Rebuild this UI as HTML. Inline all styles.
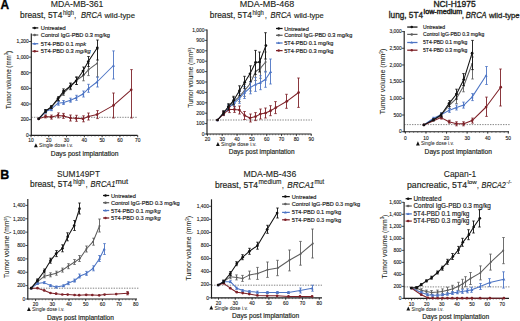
<!DOCTYPE html>
<html><head><meta charset="utf-8"><style>
html,body{margin:0;padding:0;background:#fff;}
body{width:520px;height:321px;overflow:hidden;}
svg{display:block;font-family:"Liberation Sans", sans-serif;}
</style></head><body>
<svg width="520" height="321" viewBox="0 0 520 321">
<rect width="520" height="321" fill="#fff"/>
<text x="0.40" y="9.35" font-size="13.5" text-anchor="start" fill="#000" font-weight="bold" font-style="normal" textLength="8.60" lengthAdjust="spacingAndGlyphs" stroke="#000" stroke-width="0.35">A</text>
<text x="0.30" y="179.30" font-size="13.6" text-anchor="start" fill="#000" font-weight="bold" font-style="normal" textLength="9.00" lengthAdjust="spacingAndGlyphs" stroke="#000" stroke-width="0.35">B</text>
<text x="50.80" y="7.30" font-size="9.0" fill="#231f20" stroke="#231f20" stroke-width="0.12" font-style="normal" font-weight="normal" textLength="52.60" lengthAdjust="spacingAndGlyphs">MDA-MB-361</text>
<text x="239.80" y="7.10" font-size="9.0" fill="#231f20" stroke="#231f20" stroke-width="0.12" font-style="normal" font-weight="normal" textLength="54.40" lengthAdjust="spacingAndGlyphs">MDA-MB-468</text>
<text x="433.40" y="7.00" font-size="9.0" fill="#231f20" stroke="#231f20" stroke-width="0.38" font-style="normal" font-weight="normal" textLength="42.30" lengthAdjust="spacingAndGlyphs">NCI-H1975</text>
<text x="57.00" y="177.20" font-size="9.2" fill="#231f20" stroke="#231f20" stroke-width="0.12" font-style="normal" font-weight="normal" textLength="43.00" lengthAdjust="spacingAndGlyphs">SUM149PT</text>
<text x="243.60" y="177.20" font-size="9.2" fill="#231f20" stroke="#231f20" stroke-width="0.12" font-style="normal" font-weight="normal" textLength="52.70" lengthAdjust="spacingAndGlyphs">MDA-MB-436</text>
<text x="443.80" y="177.20" font-size="9.2" fill="#231f20" stroke="#231f20" stroke-width="0.12" font-style="normal" font-weight="normal" textLength="32.40" lengthAdjust="spacingAndGlyphs">Capan-1</text>
<text x="20.00" y="18.00" font-size="8.8" fill="#231f20" stroke="#231f20" stroke-width="0.18" font-style="normal" font-weight="normal" textLength="42.30" lengthAdjust="spacingAndGlyphs">breast, 5T4</text>
<text x="63.10" y="14.60" font-size="6.6" fill="#231f20" stroke="#231f20" stroke-width="0.126" font-style="normal" font-weight="normal" textLength="10.90" lengthAdjust="spacingAndGlyphs">high</text>
<text x="74.20" y="18.00" font-size="8.8" fill="#231f20" stroke="#231f20" stroke-width="0.18" font-style="normal" font-weight="normal" textLength="1.80" lengthAdjust="spacingAndGlyphs">,</text>
<text x="81.00" y="18.00" font-size="9.240000000000002" fill="#231f20" stroke="#231f20" stroke-width="0.18" font-style="italic" font-weight="normal" textLength="20.90" lengthAdjust="spacingAndGlyphs">BRCA</text>
<text x="104.40" y="18.00" font-size="7.8" fill="#231f20" stroke="#231f20" stroke-width="0.144" font-style="normal" font-weight="normal" textLength="30.60" lengthAdjust="spacingAndGlyphs">wild-type</text>
<text x="209.75" y="17.90" font-size="8.8" fill="#231f20" stroke="#231f20" stroke-width="0.18" font-style="normal" font-weight="normal" textLength="42.15" lengthAdjust="spacingAndGlyphs">breast, 5T4</text>
<text x="252.50" y="14.50" font-size="6.6" fill="#231f20" stroke="#231f20" stroke-width="0.126" font-style="normal" font-weight="normal" textLength="11.25" lengthAdjust="spacingAndGlyphs">high</text>
<text x="265.10" y="17.90" font-size="8.8" fill="#231f20" stroke="#231f20" stroke-width="0.18" font-style="normal" font-weight="normal" textLength="1.80" lengthAdjust="spacingAndGlyphs">,</text>
<text x="270.60" y="17.90" font-size="9.240000000000002" fill="#231f20" stroke="#231f20" stroke-width="0.18" font-style="italic" font-weight="normal" textLength="20.65" lengthAdjust="spacingAndGlyphs">BRCA</text>
<text x="294.00" y="17.90" font-size="7.8" fill="#231f20" stroke="#231f20" stroke-width="0.144" font-style="normal" font-weight="normal" textLength="29.75" lengthAdjust="spacingAndGlyphs">wild-type</text>
<text x="388.80" y="18.10" font-size="8.8" fill="#231f20" stroke="#231f20" stroke-width="0.35" font-style="normal" font-weight="normal" textLength="34.20" lengthAdjust="spacingAndGlyphs">lung, 5T4</text>
<text x="423.60" y="14.30" font-size="6.6" fill="#231f20" stroke="#231f20" stroke-width="0.4" font-style="normal" font-weight="normal" textLength="38.70" lengthAdjust="spacingAndGlyphs">low-medium</text>
<text x="461.90" y="18.10" font-size="8.8" fill="#231f20" stroke="#231f20" stroke-width="0.35" font-style="normal" font-weight="normal" textLength="1.80" lengthAdjust="spacingAndGlyphs">,</text>
<text x="465.80" y="18.10" font-size="9.240000000000002" fill="#231f20" stroke="#231f20" stroke-width="0.35" font-style="italic" font-weight="normal" textLength="20.80" lengthAdjust="spacingAndGlyphs">BRCA</text>
<text x="489.00" y="18.10" font-size="7.8" fill="#231f20" stroke="#231f20" stroke-width="0.27999999999999997" font-style="normal" font-weight="normal" textLength="30.70" lengthAdjust="spacingAndGlyphs">wild-type</text>
<text x="30.00" y="187.40" font-size="9.1" fill="#231f20" stroke="#231f20" stroke-width="0.18" font-style="normal" font-weight="normal" textLength="42.25" lengthAdjust="spacingAndGlyphs">breast, 5T4</text>
<text x="73.15" y="184.00" font-size="6.6" fill="#231f20" stroke="#231f20" stroke-width="0.126" font-style="normal" font-weight="normal" textLength="11.60" lengthAdjust="spacingAndGlyphs">high</text>
<text x="85.70" y="187.40" font-size="9.1" fill="#231f20" stroke="#231f20" stroke-width="0.18" font-style="normal" font-weight="normal" textLength="1.80" lengthAdjust="spacingAndGlyphs">,</text>
<text x="90.60" y="187.40" font-size="9.555" fill="#231f20" stroke="#231f20" stroke-width="0.18" font-style="italic" font-weight="normal" textLength="24.80" lengthAdjust="spacingAndGlyphs">BRCA1</text>
<text x="115.40" y="184.00" font-size="6.6" fill="#231f20" stroke="#231f20" stroke-width="0.126" font-style="normal" font-weight="normal" textLength="12.70" lengthAdjust="spacingAndGlyphs">mut</text>
<text x="215.00" y="187.50" font-size="9.1" fill="#231f20" stroke="#231f20" stroke-width="0.18" font-style="normal" font-weight="normal" textLength="43.10" lengthAdjust="spacingAndGlyphs">breast, 5T4</text>
<text x="258.40" y="184.10" font-size="6.6" fill="#231f20" stroke="#231f20" stroke-width="0.126" font-style="normal" font-weight="normal" textLength="23.10" lengthAdjust="spacingAndGlyphs">medium</text>
<text x="282.10" y="187.50" font-size="9.1" fill="#231f20" stroke="#231f20" stroke-width="0.18" font-style="normal" font-weight="normal" textLength="1.80" lengthAdjust="spacingAndGlyphs">,</text>
<text x="287.30" y="187.50" font-size="9.555" fill="#231f20" stroke="#231f20" stroke-width="0.18" font-style="italic" font-weight="normal" textLength="27.10" lengthAdjust="spacingAndGlyphs">BRCA1</text>
<text x="314.40" y="184.10" font-size="6.6" fill="#231f20" stroke="#231f20" stroke-width="0.126" font-style="normal" font-weight="normal" textLength="9.80" lengthAdjust="spacingAndGlyphs">mut</text>
<text x="407.00" y="187.50" font-size="9.2" fill="#231f20" stroke="#231f20" stroke-width="0.18" font-style="normal" font-weight="normal" textLength="60.10" lengthAdjust="spacingAndGlyphs">pancreatic, 5T4</text>
<text x="467.40" y="183.60" font-size="5.609999999999999" fill="#231f20" stroke="#231f20" stroke-width="0.126" font-style="normal" font-weight="normal" textLength="9.30" lengthAdjust="spacingAndGlyphs">low</text>
<text x="476.90" y="187.50" font-size="9.2" fill="#231f20" stroke="#231f20" stroke-width="0.18" font-style="normal" font-weight="normal" textLength="1.80" lengthAdjust="spacingAndGlyphs">,</text>
<text x="481.60" y="187.50" font-size="9.66" fill="#231f20" stroke="#231f20" stroke-width="0.18" font-style="italic" font-weight="normal" textLength="24.30" lengthAdjust="spacingAndGlyphs">BRCA2</text>
<text x="506.20" y="183.60" font-size="5.609999999999999" fill="#231f20" stroke="#231f20" stroke-width="0.126" font-style="normal" font-weight="normal" textLength="5.60" lengthAdjust="spacingAndGlyphs">-/-</text>
<line x1="31.30" y1="33.50" x2="31.30" y2="135.80" stroke="#1e1e1e" stroke-width="1.15"/>
<line x1="28.90" y1="135.30" x2="31.30" y2="135.30" stroke="#222" stroke-width="0.8"/>
<text x="28.80" y="137.05" font-size="4.9" text-anchor="end" fill="#1a1a1a" font-weight="normal" font-style="normal" stroke="#1a1a1a" stroke-width="0.12">0</text>
<line x1="28.90" y1="119.67" x2="31.30" y2="119.67" stroke="#222" stroke-width="0.8"/>
<text x="28.80" y="121.42" font-size="4.9" text-anchor="end" fill="#1a1a1a" font-weight="normal" font-style="normal" stroke="#1a1a1a" stroke-width="0.12">200</text>
<line x1="28.90" y1="104.03" x2="31.30" y2="104.03" stroke="#222" stroke-width="0.8"/>
<text x="28.80" y="105.78" font-size="4.9" text-anchor="end" fill="#1a1a1a" font-weight="normal" font-style="normal" stroke="#1a1a1a" stroke-width="0.12">400</text>
<line x1="28.90" y1="88.40" x2="31.30" y2="88.40" stroke="#222" stroke-width="0.8"/>
<text x="28.80" y="90.15" font-size="4.9" text-anchor="end" fill="#1a1a1a" font-weight="normal" font-style="normal" stroke="#1a1a1a" stroke-width="0.12">600</text>
<line x1="28.90" y1="72.77" x2="31.30" y2="72.77" stroke="#222" stroke-width="0.8"/>
<text x="28.80" y="74.52" font-size="4.9" text-anchor="end" fill="#1a1a1a" font-weight="normal" font-style="normal" stroke="#1a1a1a" stroke-width="0.12">800</text>
<line x1="28.90" y1="57.13" x2="31.30" y2="57.13" stroke="#222" stroke-width="0.8"/>
<text x="28.80" y="58.88" font-size="4.9" text-anchor="end" fill="#1a1a1a" font-weight="normal" font-style="normal" stroke="#1a1a1a" stroke-width="0.12">1,000</text>
<line x1="28.90" y1="41.50" x2="31.30" y2="41.50" stroke="#222" stroke-width="0.8"/>
<text x="28.80" y="43.25" font-size="4.9" text-anchor="end" fill="#1a1a1a" font-weight="normal" font-style="normal" stroke="#1a1a1a" stroke-width="0.12">1,200</text>
<line x1="30.80" y1="135.30" x2="137.50" y2="135.30" stroke="#1e1e1e" stroke-width="1.15"/>
<line x1="31.00" y1="135.30" x2="31.00" y2="136.60" stroke="#333" stroke-width="0.5"/>
<line x1="34.56" y1="135.30" x2="34.56" y2="136.60" stroke="#333" stroke-width="0.5"/>
<line x1="38.11" y1="135.30" x2="38.11" y2="136.60" stroke="#333" stroke-width="0.5"/>
<line x1="41.67" y1="135.30" x2="41.67" y2="136.60" stroke="#333" stroke-width="0.5"/>
<line x1="45.22" y1="135.30" x2="45.22" y2="136.60" stroke="#333" stroke-width="0.5"/>
<line x1="48.78" y1="135.30" x2="48.78" y2="136.60" stroke="#333" stroke-width="0.5"/>
<line x1="52.34" y1="135.30" x2="52.34" y2="136.60" stroke="#333" stroke-width="0.5"/>
<line x1="55.89" y1="135.30" x2="55.89" y2="136.60" stroke="#333" stroke-width="0.5"/>
<line x1="59.45" y1="135.30" x2="59.45" y2="136.60" stroke="#333" stroke-width="0.5"/>
<line x1="63.00" y1="135.30" x2="63.00" y2="136.60" stroke="#333" stroke-width="0.5"/>
<line x1="66.56" y1="135.30" x2="66.56" y2="136.60" stroke="#333" stroke-width="0.5"/>
<line x1="70.12" y1="135.30" x2="70.12" y2="136.60" stroke="#333" stroke-width="0.5"/>
<line x1="73.67" y1="135.30" x2="73.67" y2="136.60" stroke="#333" stroke-width="0.5"/>
<line x1="77.23" y1="135.30" x2="77.23" y2="136.60" stroke="#333" stroke-width="0.5"/>
<line x1="80.78" y1="135.30" x2="80.78" y2="136.60" stroke="#333" stroke-width="0.5"/>
<line x1="84.34" y1="135.30" x2="84.34" y2="136.60" stroke="#333" stroke-width="0.5"/>
<line x1="87.90" y1="135.30" x2="87.90" y2="136.60" stroke="#333" stroke-width="0.5"/>
<line x1="91.45" y1="135.30" x2="91.45" y2="136.60" stroke="#333" stroke-width="0.5"/>
<line x1="95.01" y1="135.30" x2="95.01" y2="136.60" stroke="#333" stroke-width="0.5"/>
<line x1="98.56" y1="135.30" x2="98.56" y2="136.60" stroke="#333" stroke-width="0.5"/>
<line x1="102.12" y1="135.30" x2="102.12" y2="136.60" stroke="#333" stroke-width="0.5"/>
<line x1="105.68" y1="135.30" x2="105.68" y2="136.60" stroke="#333" stroke-width="0.5"/>
<line x1="109.23" y1="135.30" x2="109.23" y2="136.60" stroke="#333" stroke-width="0.5"/>
<line x1="112.79" y1="135.30" x2="112.79" y2="136.60" stroke="#333" stroke-width="0.5"/>
<line x1="116.34" y1="135.30" x2="116.34" y2="136.60" stroke="#333" stroke-width="0.5"/>
<line x1="119.90" y1="135.30" x2="119.90" y2="136.60" stroke="#333" stroke-width="0.5"/>
<line x1="123.46" y1="135.30" x2="123.46" y2="136.60" stroke="#333" stroke-width="0.5"/>
<line x1="127.01" y1="135.30" x2="127.01" y2="136.60" stroke="#333" stroke-width="0.5"/>
<line x1="130.57" y1="135.30" x2="130.57" y2="136.60" stroke="#333" stroke-width="0.5"/>
<line x1="134.12" y1="135.30" x2="134.12" y2="136.60" stroke="#333" stroke-width="0.5"/>
<line x1="137.68" y1="135.30" x2="137.68" y2="136.60" stroke="#333" stroke-width="0.5"/>
<line x1="31.00" y1="135.30" x2="31.00" y2="137.30" stroke="#222" stroke-width="0.8"/>
<text x="31.00" y="142.40" font-size="4.9" text-anchor="middle" fill="#1a1a1a" font-weight="normal" font-style="normal" stroke="#1a1a1a" stroke-width="0.12">10</text>
<line x1="48.78" y1="135.30" x2="48.78" y2="137.30" stroke="#222" stroke-width="0.8"/>
<text x="48.78" y="142.40" font-size="4.9" text-anchor="middle" fill="#1a1a1a" font-weight="normal" font-style="normal" stroke="#1a1a1a" stroke-width="0.12">20</text>
<line x1="66.56" y1="135.30" x2="66.56" y2="137.30" stroke="#222" stroke-width="0.8"/>
<text x="66.56" y="142.40" font-size="4.9" text-anchor="middle" fill="#1a1a1a" font-weight="normal" font-style="normal" stroke="#1a1a1a" stroke-width="0.12">30</text>
<line x1="84.34" y1="135.30" x2="84.34" y2="137.30" stroke="#222" stroke-width="0.8"/>
<text x="84.34" y="142.40" font-size="4.9" text-anchor="middle" fill="#1a1a1a" font-weight="normal" font-style="normal" stroke="#1a1a1a" stroke-width="0.12">40</text>
<line x1="102.12" y1="135.30" x2="102.12" y2="137.30" stroke="#222" stroke-width="0.8"/>
<text x="102.12" y="142.40" font-size="4.9" text-anchor="middle" fill="#1a1a1a" font-weight="normal" font-style="normal" stroke="#1a1a1a" stroke-width="0.12">50</text>
<line x1="119.90" y1="135.30" x2="119.90" y2="137.30" stroke="#222" stroke-width="0.8"/>
<text x="119.90" y="142.40" font-size="4.9" text-anchor="middle" fill="#1a1a1a" font-weight="normal" font-style="normal" stroke="#1a1a1a" stroke-width="0.12">60</text>
<line x1="137.68" y1="135.30" x2="137.68" y2="137.30" stroke="#222" stroke-width="0.8"/>
<text x="137.68" y="142.40" font-size="4.9" text-anchor="middle" fill="#1a1a1a" font-weight="normal" font-style="normal" stroke="#1a1a1a" stroke-width="0.12">70</text>
<line x1="31.30" y1="117.30" x2="137.00" y2="117.30" stroke="#333" stroke-width="0.6" stroke-dasharray="1.4,1.2"/>
<text transform="translate(8.40,79.90) rotate(-90)" x="0" y="2.45" font-size="7.0" text-anchor="middle" fill="#231f20" stroke="#231f20" stroke-width="0.08" textLength="58.00" lengthAdjust="spacingAndGlyphs">Tumor volume (mm<tspan font-size="4.55" dy="-2.45">3</tspan><tspan dy="2.45">)</tspan></text>
<polygon points="35.90,143.20 34.00,147.30 37.80,147.30" fill="#111"/>
<text x="39.00" y="147.30" font-size="5.2" text-anchor="start" fill="#2a2a2a" font-weight="normal" font-style="normal" textLength="34.00" lengthAdjust="spacingAndGlyphs" stroke="#2a2a2a" stroke-width="0.05">Single dose i.v.</text>
<text x="50.80" y="156.00" font-size="7" text-anchor="start" fill="#231f20" font-weight="normal" font-style="normal" textLength="67.70" lengthAdjust="spacingAndGlyphs" stroke="#231f20" stroke-width="0.18">Days post implantation</text>
<path d="M38.70,118.80 L45.60,111.50 L51.20,107.50 L58.00,99.50 L63.60,93.00 L70.50,86.70 L76.10,80.50 L83.00,75.80 L88.60,69.60 L97.00,63.40" fill="none" stroke="#5e5e5e" stroke-width="1.05" stroke-linejoin="round"/>
<line x1="45.50" y1="110.00" x2="45.50" y2="113.00" stroke="#5e5e5e" stroke-width="0.9"/>
<line x1="44.20" y1="110.00" x2="46.80" y2="110.00" stroke="#5e5e5e" stroke-width="0.8"/>
<line x1="44.20" y1="113.00" x2="46.80" y2="113.00" stroke="#5e5e5e" stroke-width="0.8"/>
<line x1="51.50" y1="106.00" x2="51.50" y2="109.00" stroke="#5e5e5e" stroke-width="0.9"/>
<line x1="50.20" y1="106.00" x2="52.80" y2="106.00" stroke="#5e5e5e" stroke-width="0.8"/>
<line x1="50.20" y1="109.00" x2="52.80" y2="109.00" stroke="#5e5e5e" stroke-width="0.8"/>
<line x1="58.50" y1="97.50" x2="58.50" y2="101.50" stroke="#5e5e5e" stroke-width="0.9"/>
<line x1="57.20" y1="97.50" x2="59.80" y2="97.50" stroke="#5e5e5e" stroke-width="0.8"/>
<line x1="57.20" y1="101.50" x2="59.80" y2="101.50" stroke="#5e5e5e" stroke-width="0.8"/>
<line x1="63.50" y1="90.50" x2="63.50" y2="95.50" stroke="#5e5e5e" stroke-width="0.9"/>
<line x1="62.20" y1="90.50" x2="64.80" y2="90.50" stroke="#5e5e5e" stroke-width="0.8"/>
<line x1="62.20" y1="95.50" x2="64.80" y2="95.50" stroke="#5e5e5e" stroke-width="0.8"/>
<line x1="70.50" y1="83.70" x2="70.50" y2="89.70" stroke="#5e5e5e" stroke-width="0.9"/>
<line x1="69.20" y1="83.70" x2="71.80" y2="83.70" stroke="#5e5e5e" stroke-width="0.8"/>
<line x1="69.20" y1="89.70" x2="71.80" y2="89.70" stroke="#5e5e5e" stroke-width="0.8"/>
<line x1="76.50" y1="76.50" x2="76.50" y2="84.50" stroke="#5e5e5e" stroke-width="0.9"/>
<line x1="75.20" y1="76.50" x2="77.80" y2="76.50" stroke="#5e5e5e" stroke-width="0.8"/>
<line x1="75.20" y1="84.50" x2="77.80" y2="84.50" stroke="#5e5e5e" stroke-width="0.8"/>
<line x1="83.50" y1="70.80" x2="83.50" y2="80.80" stroke="#5e5e5e" stroke-width="0.9"/>
<line x1="82.20" y1="70.80" x2="84.80" y2="70.80" stroke="#5e5e5e" stroke-width="0.8"/>
<line x1="82.20" y1="80.80" x2="84.80" y2="80.80" stroke="#5e5e5e" stroke-width="0.8"/>
<line x1="88.50" y1="63.60" x2="88.50" y2="75.60" stroke="#5e5e5e" stroke-width="0.9"/>
<line x1="87.20" y1="63.60" x2="89.80" y2="63.60" stroke="#5e5e5e" stroke-width="0.8"/>
<line x1="87.20" y1="75.60" x2="89.80" y2="75.60" stroke="#5e5e5e" stroke-width="0.8"/>
<line x1="97.50" y1="49.00" x2="97.50" y2="77.00" stroke="#5e5e5e" stroke-width="0.9"/>
<line x1="96.20" y1="49.00" x2="98.80" y2="49.00" stroke="#5e5e5e" stroke-width="0.8"/>
<line x1="96.20" y1="77.00" x2="98.80" y2="77.00" stroke="#5e5e5e" stroke-width="0.8"/>
<circle cx="38.70" cy="118.80" r="1.00" fill="#5e5e5e"/>
<circle cx="45.60" cy="111.50" r="1.00" fill="#5e5e5e"/>
<circle cx="51.20" cy="107.50" r="1.00" fill="#5e5e5e"/>
<circle cx="58.00" cy="99.50" r="1.00" fill="#5e5e5e"/>
<circle cx="63.60" cy="93.00" r="1.00" fill="#5e5e5e"/>
<circle cx="70.50" cy="86.70" r="1.00" fill="#5e5e5e"/>
<circle cx="76.10" cy="80.50" r="1.00" fill="#5e5e5e"/>
<circle cx="83.00" cy="75.80" r="1.00" fill="#5e5e5e"/>
<circle cx="88.60" cy="69.60" r="1.00" fill="#5e5e5e"/>
<circle cx="97.00" cy="63.40" r="1.00" fill="#5e5e5e"/>
<path d="M38.70,118.80 L45.60,111.60 L51.20,109.20 L58.00,103.20 L63.60,102.50 L70.50,100.20 L76.10,97.80 L83.00,94.00 L88.60,88.30 L97.00,82.00 L113.50,65.50" fill="none" stroke="#4c74c4" stroke-width="1.05" stroke-linejoin="round"/>
<line x1="45.50" y1="110.10" x2="45.50" y2="113.10" stroke="#4c74c4" stroke-width="0.9"/>
<line x1="44.20" y1="110.10" x2="46.80" y2="110.10" stroke="#4c74c4" stroke-width="0.8"/>
<line x1="44.20" y1="113.10" x2="46.80" y2="113.10" stroke="#4c74c4" stroke-width="0.8"/>
<line x1="51.50" y1="107.70" x2="51.50" y2="110.70" stroke="#4c74c4" stroke-width="0.9"/>
<line x1="50.20" y1="107.70" x2="52.80" y2="107.70" stroke="#4c74c4" stroke-width="0.8"/>
<line x1="50.20" y1="110.70" x2="52.80" y2="110.70" stroke="#4c74c4" stroke-width="0.8"/>
<line x1="58.50" y1="101.20" x2="58.50" y2="105.20" stroke="#4c74c4" stroke-width="0.9"/>
<line x1="57.20" y1="101.20" x2="59.80" y2="101.20" stroke="#4c74c4" stroke-width="0.8"/>
<line x1="57.20" y1="105.20" x2="59.80" y2="105.20" stroke="#4c74c4" stroke-width="0.8"/>
<line x1="63.50" y1="100.50" x2="63.50" y2="104.50" stroke="#4c74c4" stroke-width="0.9"/>
<line x1="62.20" y1="100.50" x2="64.80" y2="100.50" stroke="#4c74c4" stroke-width="0.8"/>
<line x1="62.20" y1="104.50" x2="64.80" y2="104.50" stroke="#4c74c4" stroke-width="0.8"/>
<line x1="70.50" y1="98.20" x2="70.50" y2="102.20" stroke="#4c74c4" stroke-width="0.9"/>
<line x1="69.20" y1="98.20" x2="71.80" y2="98.20" stroke="#4c74c4" stroke-width="0.8"/>
<line x1="69.20" y1="102.20" x2="71.80" y2="102.20" stroke="#4c74c4" stroke-width="0.8"/>
<line x1="76.50" y1="95.30" x2="76.50" y2="100.30" stroke="#4c74c4" stroke-width="0.9"/>
<line x1="75.20" y1="95.30" x2="77.80" y2="95.30" stroke="#4c74c4" stroke-width="0.8"/>
<line x1="75.20" y1="100.30" x2="77.80" y2="100.30" stroke="#4c74c4" stroke-width="0.8"/>
<line x1="83.50" y1="91.00" x2="83.50" y2="97.00" stroke="#4c74c4" stroke-width="0.9"/>
<line x1="82.20" y1="91.00" x2="84.80" y2="91.00" stroke="#4c74c4" stroke-width="0.8"/>
<line x1="82.20" y1="97.00" x2="84.80" y2="97.00" stroke="#4c74c4" stroke-width="0.8"/>
<line x1="88.50" y1="84.30" x2="88.50" y2="92.30" stroke="#4c74c4" stroke-width="0.9"/>
<line x1="87.20" y1="84.30" x2="89.80" y2="84.30" stroke="#4c74c4" stroke-width="0.8"/>
<line x1="87.20" y1="92.30" x2="89.80" y2="92.30" stroke="#4c74c4" stroke-width="0.8"/>
<line x1="97.50" y1="77.00" x2="97.50" y2="87.00" stroke="#4c74c4" stroke-width="0.9"/>
<line x1="96.20" y1="77.00" x2="98.80" y2="77.00" stroke="#4c74c4" stroke-width="0.8"/>
<line x1="96.20" y1="87.00" x2="98.80" y2="87.00" stroke="#4c74c4" stroke-width="0.8"/>
<line x1="113.50" y1="50.90" x2="113.50" y2="79.00" stroke="#4c74c4" stroke-width="0.9"/>
<line x1="112.20" y1="50.90" x2="114.80" y2="50.90" stroke="#4c74c4" stroke-width="0.8"/>
<line x1="112.20" y1="79.00" x2="114.80" y2="79.00" stroke="#4c74c4" stroke-width="0.8"/>
<polygon points="38.70,117.31 37.22,119.99 40.19,119.99" fill="#4c74c4"/>
<polygon points="45.60,110.11 44.12,112.79 47.09,112.79" fill="#4c74c4"/>
<polygon points="51.20,107.72 49.72,110.39 52.69,110.39" fill="#4c74c4"/>
<polygon points="58.00,101.72 56.52,104.39 59.48,104.39" fill="#4c74c4"/>
<polygon points="63.60,101.02 62.12,103.69 65.09,103.69" fill="#4c74c4"/>
<polygon points="70.50,98.72 69.02,101.39 71.98,101.39" fill="#4c74c4"/>
<polygon points="76.10,96.31 74.61,98.99 77.58,98.99" fill="#4c74c4"/>
<polygon points="83.00,92.52 81.52,95.19 84.48,95.19" fill="#4c74c4"/>
<polygon points="88.60,86.81 87.11,89.49 90.08,89.49" fill="#4c74c4"/>
<polygon points="97.00,80.52 95.52,83.19 98.48,83.19" fill="#4c74c4"/>
<polygon points="113.50,64.02 112.02,66.69 114.98,66.69" fill="#4c74c4"/>
<path d="M38.70,118.80 L45.60,116.40 L51.20,117.10 L58.00,115.40 L63.60,115.90 L70.50,118.00 L76.10,118.30 L83.00,118.80 L88.60,116.50 L97.00,114.60 L113.50,105.40 L131.20,89.80" fill="none" stroke="#7e2128" stroke-width="1.05" stroke-linejoin="round"/>
<line x1="45.50" y1="114.90" x2="45.50" y2="117.90" stroke="#7e2128" stroke-width="0.9"/>
<line x1="44.20" y1="114.90" x2="46.80" y2="114.90" stroke="#7e2128" stroke-width="0.8"/>
<line x1="44.20" y1="117.90" x2="46.80" y2="117.90" stroke="#7e2128" stroke-width="0.8"/>
<line x1="51.50" y1="115.10" x2="51.50" y2="119.10" stroke="#7e2128" stroke-width="0.9"/>
<line x1="50.20" y1="115.10" x2="52.80" y2="115.10" stroke="#7e2128" stroke-width="0.8"/>
<line x1="50.20" y1="119.10" x2="52.80" y2="119.10" stroke="#7e2128" stroke-width="0.8"/>
<line x1="58.50" y1="112.90" x2="58.50" y2="117.90" stroke="#7e2128" stroke-width="0.9"/>
<line x1="57.20" y1="112.90" x2="59.80" y2="112.90" stroke="#7e2128" stroke-width="0.8"/>
<line x1="57.20" y1="117.90" x2="59.80" y2="117.90" stroke="#7e2128" stroke-width="0.8"/>
<line x1="63.50" y1="113.40" x2="63.50" y2="118.40" stroke="#7e2128" stroke-width="0.9"/>
<line x1="62.20" y1="113.40" x2="64.80" y2="113.40" stroke="#7e2128" stroke-width="0.8"/>
<line x1="62.20" y1="118.40" x2="64.80" y2="118.40" stroke="#7e2128" stroke-width="0.8"/>
<line x1="70.50" y1="115.00" x2="70.50" y2="121.00" stroke="#7e2128" stroke-width="0.9"/>
<line x1="69.20" y1="115.00" x2="71.80" y2="115.00" stroke="#7e2128" stroke-width="0.8"/>
<line x1="69.20" y1="121.00" x2="71.80" y2="121.00" stroke="#7e2128" stroke-width="0.8"/>
<line x1="76.50" y1="115.30" x2="76.50" y2="121.30" stroke="#7e2128" stroke-width="0.9"/>
<line x1="75.20" y1="115.30" x2="77.80" y2="115.30" stroke="#7e2128" stroke-width="0.8"/>
<line x1="75.20" y1="121.30" x2="77.80" y2="121.30" stroke="#7e2128" stroke-width="0.8"/>
<line x1="83.50" y1="115.80" x2="83.50" y2="121.80" stroke="#7e2128" stroke-width="0.9"/>
<line x1="82.20" y1="115.80" x2="84.80" y2="115.80" stroke="#7e2128" stroke-width="0.8"/>
<line x1="82.20" y1="121.80" x2="84.80" y2="121.80" stroke="#7e2128" stroke-width="0.8"/>
<line x1="88.50" y1="113.00" x2="88.50" y2="120.00" stroke="#7e2128" stroke-width="0.9"/>
<line x1="87.20" y1="113.00" x2="89.80" y2="113.00" stroke="#7e2128" stroke-width="0.8"/>
<line x1="87.20" y1="120.00" x2="89.80" y2="120.00" stroke="#7e2128" stroke-width="0.8"/>
<line x1="97.50" y1="110.60" x2="97.50" y2="118.60" stroke="#7e2128" stroke-width="0.9"/>
<line x1="96.20" y1="110.60" x2="98.80" y2="110.60" stroke="#7e2128" stroke-width="0.8"/>
<line x1="96.20" y1="118.60" x2="98.80" y2="118.60" stroke="#7e2128" stroke-width="0.8"/>
<line x1="113.50" y1="93.00" x2="113.50" y2="118.00" stroke="#7e2128" stroke-width="0.9"/>
<line x1="112.20" y1="93.00" x2="114.80" y2="93.00" stroke="#7e2128" stroke-width="0.8"/>
<line x1="112.20" y1="118.00" x2="114.80" y2="118.00" stroke="#7e2128" stroke-width="0.8"/>
<line x1="131.50" y1="69.60" x2="131.50" y2="118.00" stroke="#7e2128" stroke-width="0.9"/>
<line x1="130.20" y1="69.60" x2="132.80" y2="69.60" stroke="#7e2128" stroke-width="0.8"/>
<line x1="130.20" y1="118.00" x2="132.80" y2="118.00" stroke="#7e2128" stroke-width="0.8"/>
<circle cx="38.70" cy="118.80" r="1.35" fill="#7e2128"/>
<circle cx="45.60" cy="116.40" r="1.35" fill="#7e2128"/>
<circle cx="51.20" cy="117.10" r="1.35" fill="#7e2128"/>
<circle cx="58.00" cy="115.40" r="1.35" fill="#7e2128"/>
<circle cx="63.60" cy="115.90" r="1.35" fill="#7e2128"/>
<circle cx="70.50" cy="118.00" r="1.35" fill="#7e2128"/>
<circle cx="76.10" cy="118.30" r="1.35" fill="#7e2128"/>
<circle cx="83.00" cy="118.80" r="1.35" fill="#7e2128"/>
<circle cx="88.60" cy="116.50" r="1.35" fill="#7e2128"/>
<circle cx="97.00" cy="114.60" r="1.35" fill="#7e2128"/>
<circle cx="113.50" cy="105.40" r="1.35" fill="#7e2128"/>
<circle cx="131.20" cy="89.80" r="1.35" fill="#7e2128"/>
<path d="M38.70,118.80 L45.60,111.00 L51.20,107.00 L58.00,98.60 L63.60,91.40 L70.50,86.00 L76.10,81.00 L83.00,71.00 L88.30,61.50 L97.30,47.80" fill="none" stroke="#111" stroke-width="1.05" stroke-linejoin="round"/>
<line x1="45.50" y1="109.50" x2="45.50" y2="112.50" stroke="#111" stroke-width="0.9"/>
<line x1="44.20" y1="109.50" x2="46.80" y2="109.50" stroke="#111" stroke-width="0.8"/>
<line x1="44.20" y1="112.50" x2="46.80" y2="112.50" stroke="#111" stroke-width="0.8"/>
<line x1="51.50" y1="105.50" x2="51.50" y2="108.50" stroke="#111" stroke-width="0.9"/>
<line x1="50.20" y1="105.50" x2="52.80" y2="105.50" stroke="#111" stroke-width="0.8"/>
<line x1="50.20" y1="108.50" x2="52.80" y2="108.50" stroke="#111" stroke-width="0.8"/>
<line x1="58.50" y1="96.60" x2="58.50" y2="100.60" stroke="#111" stroke-width="0.9"/>
<line x1="57.20" y1="96.60" x2="59.80" y2="96.60" stroke="#111" stroke-width="0.8"/>
<line x1="57.20" y1="100.60" x2="59.80" y2="100.60" stroke="#111" stroke-width="0.8"/>
<line x1="63.50" y1="88.90" x2="63.50" y2="93.90" stroke="#111" stroke-width="0.9"/>
<line x1="62.20" y1="88.90" x2="64.80" y2="88.90" stroke="#111" stroke-width="0.8"/>
<line x1="62.20" y1="93.90" x2="64.80" y2="93.90" stroke="#111" stroke-width="0.8"/>
<line x1="70.50" y1="83.00" x2="70.50" y2="89.00" stroke="#111" stroke-width="0.9"/>
<line x1="69.20" y1="83.00" x2="71.80" y2="83.00" stroke="#111" stroke-width="0.8"/>
<line x1="69.20" y1="89.00" x2="71.80" y2="89.00" stroke="#111" stroke-width="0.8"/>
<line x1="76.50" y1="77.50" x2="76.50" y2="84.50" stroke="#111" stroke-width="0.9"/>
<line x1="75.20" y1="77.50" x2="77.80" y2="77.50" stroke="#111" stroke-width="0.8"/>
<line x1="75.20" y1="84.50" x2="77.80" y2="84.50" stroke="#111" stroke-width="0.8"/>
<line x1="83.50" y1="67.00" x2="83.50" y2="75.00" stroke="#111" stroke-width="0.9"/>
<line x1="82.20" y1="67.00" x2="84.80" y2="67.00" stroke="#111" stroke-width="0.8"/>
<line x1="82.20" y1="75.00" x2="84.80" y2="75.00" stroke="#111" stroke-width="0.8"/>
<line x1="88.50" y1="56.50" x2="88.50" y2="66.50" stroke="#111" stroke-width="0.9"/>
<line x1="87.20" y1="56.50" x2="89.80" y2="56.50" stroke="#111" stroke-width="0.8"/>
<line x1="87.20" y1="66.50" x2="89.80" y2="66.50" stroke="#111" stroke-width="0.8"/>
<line x1="97.50" y1="40.00" x2="97.50" y2="60.00" stroke="#111" stroke-width="0.9"/>
<line x1="96.20" y1="40.00" x2="98.80" y2="40.00" stroke="#111" stroke-width="0.8"/>
<line x1="96.20" y1="60.00" x2="98.80" y2="60.00" stroke="#111" stroke-width="0.8"/>
<circle cx="38.70" cy="118.80" r="1.35" fill="#111"/>
<circle cx="45.60" cy="111.00" r="1.35" fill="#111"/>
<circle cx="51.20" cy="107.00" r="1.35" fill="#111"/>
<circle cx="58.00" cy="98.60" r="1.35" fill="#111"/>
<circle cx="63.60" cy="91.40" r="1.35" fill="#111"/>
<circle cx="70.50" cy="86.00" r="1.35" fill="#111"/>
<circle cx="76.10" cy="81.00" r="1.35" fill="#111"/>
<circle cx="83.00" cy="71.00" r="1.35" fill="#111"/>
<circle cx="88.30" cy="61.50" r="1.35" fill="#111"/>
<circle cx="97.30" cy="47.80" r="1.35" fill="#111"/>
<line x1="32.30" y1="27.90" x2="38.30" y2="27.90" stroke="#111" stroke-width="1.25"/>
<circle cx="34.70" cy="27.90" r="1.25" fill="#111"/>
<text x="40.80" y="29.95" font-size="5.7" fill="#1a1a1a" stroke="#1a1a1a" stroke-width="0.16">Untreated</text>
<line x1="32.30" y1="35.00" x2="38.30" y2="35.00" stroke="#5e5e5e" stroke-width="1.25"/>
<circle cx="34.70" cy="35.00" r="1.25" fill="#5e5e5e"/>
<text x="40.80" y="37.05" font-size="5.7" fill="#1a1a1a" stroke="#1a1a1a" stroke-width="0.16">Control IgG-PBD 0.3 mg/kg</text>
<line x1="32.30" y1="43.70" x2="38.30" y2="43.70" stroke="#4c74c4" stroke-width="1.25"/>
<polygon points="34.70,42.33 33.32,44.80 36.07,44.80" fill="#4c74c4"/>
<text x="40.80" y="45.75" font-size="5.7" fill="#1a1a1a" stroke="#1a1a1a" stroke-width="0.16">5T4-PBD 0.1 <tspan font-style="italic">mpk</tspan></text>
<line x1="32.30" y1="51.30" x2="38.30" y2="51.30" stroke="#7e2128" stroke-width="1.25"/>
<circle cx="34.70" cy="51.30" r="1.25" fill="#7e2128"/>
<text x="40.80" y="53.35" font-size="5.7" fill="#1a1a1a" stroke="#1a1a1a" stroke-width="0.16">5T4-PBD 0.3 <tspan font-style="italic">mg/kg</tspan></text>
<line x1="207.00" y1="29.50" x2="207.00" y2="134.50" stroke="#1e1e1e" stroke-width="1.15"/>
<line x1="204.60" y1="134.00" x2="207.00" y2="134.00" stroke="#222" stroke-width="0.8"/>
<text x="204.50" y="135.75" font-size="4.9" text-anchor="end" fill="#1a1a1a" font-weight="normal" font-style="normal" stroke="#1a1a1a" stroke-width="0.12">0</text>
<line x1="204.60" y1="123.60" x2="207.00" y2="123.60" stroke="#222" stroke-width="0.8"/>
<text x="204.50" y="125.35" font-size="4.9" text-anchor="end" fill="#1a1a1a" font-weight="normal" font-style="normal" stroke="#1a1a1a" stroke-width="0.12">100</text>
<line x1="204.60" y1="113.20" x2="207.00" y2="113.20" stroke="#222" stroke-width="0.8"/>
<text x="204.50" y="114.95" font-size="4.9" text-anchor="end" fill="#1a1a1a" font-weight="normal" font-style="normal" stroke="#1a1a1a" stroke-width="0.12">200</text>
<line x1="204.60" y1="102.80" x2="207.00" y2="102.80" stroke="#222" stroke-width="0.8"/>
<text x="204.50" y="104.55" font-size="4.9" text-anchor="end" fill="#1a1a1a" font-weight="normal" font-style="normal" stroke="#1a1a1a" stroke-width="0.12">300</text>
<line x1="204.60" y1="92.40" x2="207.00" y2="92.40" stroke="#222" stroke-width="0.8"/>
<text x="204.50" y="94.15" font-size="4.9" text-anchor="end" fill="#1a1a1a" font-weight="normal" font-style="normal" stroke="#1a1a1a" stroke-width="0.12">400</text>
<line x1="204.60" y1="82.00" x2="207.00" y2="82.00" stroke="#222" stroke-width="0.8"/>
<text x="204.50" y="83.75" font-size="4.9" text-anchor="end" fill="#1a1a1a" font-weight="normal" font-style="normal" stroke="#1a1a1a" stroke-width="0.12">500</text>
<line x1="204.60" y1="71.60" x2="207.00" y2="71.60" stroke="#222" stroke-width="0.8"/>
<text x="204.50" y="73.35" font-size="4.9" text-anchor="end" fill="#1a1a1a" font-weight="normal" font-style="normal" stroke="#1a1a1a" stroke-width="0.12">600</text>
<line x1="204.60" y1="61.20" x2="207.00" y2="61.20" stroke="#222" stroke-width="0.8"/>
<text x="204.50" y="62.95" font-size="4.9" text-anchor="end" fill="#1a1a1a" font-weight="normal" font-style="normal" stroke="#1a1a1a" stroke-width="0.12">700</text>
<line x1="204.60" y1="50.80" x2="207.00" y2="50.80" stroke="#222" stroke-width="0.8"/>
<text x="204.50" y="52.55" font-size="4.9" text-anchor="end" fill="#1a1a1a" font-weight="normal" font-style="normal" stroke="#1a1a1a" stroke-width="0.12">800</text>
<line x1="204.60" y1="40.40" x2="207.00" y2="40.40" stroke="#222" stroke-width="0.8"/>
<text x="204.50" y="42.15" font-size="4.9" text-anchor="end" fill="#1a1a1a" font-weight="normal" font-style="normal" stroke="#1a1a1a" stroke-width="0.12">900</text>
<line x1="204.60" y1="30.00" x2="207.00" y2="30.00" stroke="#222" stroke-width="0.8"/>
<text x="204.50" y="31.75" font-size="4.9" text-anchor="end" fill="#1a1a1a" font-weight="normal" font-style="normal" stroke="#1a1a1a" stroke-width="0.12">1,000</text>
<line x1="206.50" y1="134.00" x2="311.50" y2="134.00" stroke="#1e1e1e" stroke-width="1.15"/>
<line x1="207.40" y1="134.00" x2="207.40" y2="135.30" stroke="#333" stroke-width="0.5"/>
<line x1="210.37" y1="134.00" x2="210.37" y2="135.30" stroke="#333" stroke-width="0.5"/>
<line x1="213.33" y1="134.00" x2="213.33" y2="135.30" stroke="#333" stroke-width="0.5"/>
<line x1="216.30" y1="134.00" x2="216.30" y2="135.30" stroke="#333" stroke-width="0.5"/>
<line x1="219.26" y1="134.00" x2="219.26" y2="135.30" stroke="#333" stroke-width="0.5"/>
<line x1="222.23" y1="134.00" x2="222.23" y2="135.30" stroke="#333" stroke-width="0.5"/>
<line x1="225.20" y1="134.00" x2="225.20" y2="135.30" stroke="#333" stroke-width="0.5"/>
<line x1="228.16" y1="134.00" x2="228.16" y2="135.30" stroke="#333" stroke-width="0.5"/>
<line x1="231.13" y1="134.00" x2="231.13" y2="135.30" stroke="#333" stroke-width="0.5"/>
<line x1="234.09" y1="134.00" x2="234.09" y2="135.30" stroke="#333" stroke-width="0.5"/>
<line x1="237.06" y1="134.00" x2="237.06" y2="135.30" stroke="#333" stroke-width="0.5"/>
<line x1="240.03" y1="134.00" x2="240.03" y2="135.30" stroke="#333" stroke-width="0.5"/>
<line x1="242.99" y1="134.00" x2="242.99" y2="135.30" stroke="#333" stroke-width="0.5"/>
<line x1="245.96" y1="134.00" x2="245.96" y2="135.30" stroke="#333" stroke-width="0.5"/>
<line x1="248.92" y1="134.00" x2="248.92" y2="135.30" stroke="#333" stroke-width="0.5"/>
<line x1="251.89" y1="134.00" x2="251.89" y2="135.30" stroke="#333" stroke-width="0.5"/>
<line x1="254.86" y1="134.00" x2="254.86" y2="135.30" stroke="#333" stroke-width="0.5"/>
<line x1="257.82" y1="134.00" x2="257.82" y2="135.30" stroke="#333" stroke-width="0.5"/>
<line x1="260.79" y1="134.00" x2="260.79" y2="135.30" stroke="#333" stroke-width="0.5"/>
<line x1="263.75" y1="134.00" x2="263.75" y2="135.30" stroke="#333" stroke-width="0.5"/>
<line x1="266.72" y1="134.00" x2="266.72" y2="135.30" stroke="#333" stroke-width="0.5"/>
<line x1="269.69" y1="134.00" x2="269.69" y2="135.30" stroke="#333" stroke-width="0.5"/>
<line x1="272.65" y1="134.00" x2="272.65" y2="135.30" stroke="#333" stroke-width="0.5"/>
<line x1="275.62" y1="134.00" x2="275.62" y2="135.30" stroke="#333" stroke-width="0.5"/>
<line x1="278.58" y1="134.00" x2="278.58" y2="135.30" stroke="#333" stroke-width="0.5"/>
<line x1="281.55" y1="134.00" x2="281.55" y2="135.30" stroke="#333" stroke-width="0.5"/>
<line x1="284.52" y1="134.00" x2="284.52" y2="135.30" stroke="#333" stroke-width="0.5"/>
<line x1="287.48" y1="134.00" x2="287.48" y2="135.30" stroke="#333" stroke-width="0.5"/>
<line x1="290.45" y1="134.00" x2="290.45" y2="135.30" stroke="#333" stroke-width="0.5"/>
<line x1="293.41" y1="134.00" x2="293.41" y2="135.30" stroke="#333" stroke-width="0.5"/>
<line x1="296.38" y1="134.00" x2="296.38" y2="135.30" stroke="#333" stroke-width="0.5"/>
<line x1="299.35" y1="134.00" x2="299.35" y2="135.30" stroke="#333" stroke-width="0.5"/>
<line x1="302.31" y1="134.00" x2="302.31" y2="135.30" stroke="#333" stroke-width="0.5"/>
<line x1="305.28" y1="134.00" x2="305.28" y2="135.30" stroke="#333" stroke-width="0.5"/>
<line x1="308.24" y1="134.00" x2="308.24" y2="135.30" stroke="#333" stroke-width="0.5"/>
<line x1="311.21" y1="134.00" x2="311.21" y2="135.30" stroke="#333" stroke-width="0.5"/>
<line x1="207.40" y1="134.00" x2="207.40" y2="136.00" stroke="#222" stroke-width="0.8"/>
<text x="207.40" y="140.50" font-size="4.9" text-anchor="middle" fill="#1a1a1a" font-weight="normal" font-style="normal" stroke="#1a1a1a" stroke-width="0.12">20</text>
<line x1="222.23" y1="134.00" x2="222.23" y2="136.00" stroke="#222" stroke-width="0.8"/>
<text x="222.23" y="140.50" font-size="4.9" text-anchor="middle" fill="#1a1a1a" font-weight="normal" font-style="normal" stroke="#1a1a1a" stroke-width="0.12">30</text>
<line x1="237.06" y1="134.00" x2="237.06" y2="136.00" stroke="#222" stroke-width="0.8"/>
<text x="237.06" y="140.50" font-size="4.9" text-anchor="middle" fill="#1a1a1a" font-weight="normal" font-style="normal" stroke="#1a1a1a" stroke-width="0.12">40</text>
<line x1="251.89" y1="134.00" x2="251.89" y2="136.00" stroke="#222" stroke-width="0.8"/>
<text x="251.89" y="140.50" font-size="4.9" text-anchor="middle" fill="#1a1a1a" font-weight="normal" font-style="normal" stroke="#1a1a1a" stroke-width="0.12">50</text>
<line x1="266.72" y1="134.00" x2="266.72" y2="136.00" stroke="#222" stroke-width="0.8"/>
<text x="266.72" y="140.50" font-size="4.9" text-anchor="middle" fill="#1a1a1a" font-weight="normal" font-style="normal" stroke="#1a1a1a" stroke-width="0.12">60</text>
<line x1="281.55" y1="134.00" x2="281.55" y2="136.00" stroke="#222" stroke-width="0.8"/>
<text x="281.55" y="140.50" font-size="4.9" text-anchor="middle" fill="#1a1a1a" font-weight="normal" font-style="normal" stroke="#1a1a1a" stroke-width="0.12">70</text>
<line x1="296.38" y1="134.00" x2="296.38" y2="136.00" stroke="#222" stroke-width="0.8"/>
<text x="296.38" y="140.50" font-size="4.9" text-anchor="middle" fill="#1a1a1a" font-weight="normal" font-style="normal" stroke="#1a1a1a" stroke-width="0.12">80</text>
<line x1="311.21" y1="134.00" x2="311.21" y2="136.00" stroke="#222" stroke-width="0.8"/>
<text x="311.21" y="140.50" font-size="4.9" text-anchor="middle" fill="#1a1a1a" font-weight="normal" font-style="normal" stroke="#1a1a1a" stroke-width="0.12">90</text>
<line x1="207.00" y1="120.00" x2="312.00" y2="120.00" stroke="#333" stroke-width="0.6" stroke-dasharray="1.4,1.2"/>
<text transform="translate(191.00,77.60) rotate(-90)" x="0" y="2.34" font-size="6.7" text-anchor="middle" fill="#231f20" stroke="#231f20" stroke-width="0.08" textLength="60.30" lengthAdjust="spacingAndGlyphs">Tumor volume (mm<tspan font-size="4.36" dy="-2.34">3</tspan><tspan dy="2.34">)</tspan></text>
<polygon points="217.90,142.00 216.00,146.10 219.80,146.10" fill="#111"/>
<text x="221.00" y="146.10" font-size="5.2" text-anchor="start" fill="#2a2a2a" font-weight="normal" font-style="normal" textLength="35.50" lengthAdjust="spacingAndGlyphs" stroke="#2a2a2a" stroke-width="0.05">Single dose i.v.</text>
<text x="228.80" y="154.30" font-size="7" text-anchor="start" fill="#231f20" font-weight="normal" font-style="normal" textLength="65.80" lengthAdjust="spacingAndGlyphs" stroke="#231f20" stroke-width="0.18">Days post implantation</text>
<path d="M217.50,120.00 L223.60,113.00 L228.30,107.50 L233.70,101.50 L239.40,96.60 L244.70,90.40 L250.00,84.00 L255.60,71.50 L260.30,68.30 L265.60,62.00" fill="none" stroke="#5e5e5e" stroke-width="1.05" stroke-linejoin="round"/>
<line x1="223.50" y1="111.00" x2="223.50" y2="115.00" stroke="#5e5e5e" stroke-width="0.9"/>
<line x1="222.20" y1="111.00" x2="224.80" y2="111.00" stroke="#5e5e5e" stroke-width="0.8"/>
<line x1="222.20" y1="115.00" x2="224.80" y2="115.00" stroke="#5e5e5e" stroke-width="0.8"/>
<line x1="228.50" y1="104.50" x2="228.50" y2="110.50" stroke="#5e5e5e" stroke-width="0.9"/>
<line x1="227.20" y1="104.50" x2="229.80" y2="104.50" stroke="#5e5e5e" stroke-width="0.8"/>
<line x1="227.20" y1="110.50" x2="229.80" y2="110.50" stroke="#5e5e5e" stroke-width="0.8"/>
<line x1="233.50" y1="97.50" x2="233.50" y2="105.50" stroke="#5e5e5e" stroke-width="0.9"/>
<line x1="232.20" y1="97.50" x2="234.80" y2="97.50" stroke="#5e5e5e" stroke-width="0.8"/>
<line x1="232.20" y1="105.50" x2="234.80" y2="105.50" stroke="#5e5e5e" stroke-width="0.8"/>
<line x1="239.50" y1="91.60" x2="239.50" y2="101.60" stroke="#5e5e5e" stroke-width="0.9"/>
<line x1="238.20" y1="91.60" x2="240.80" y2="91.60" stroke="#5e5e5e" stroke-width="0.8"/>
<line x1="238.20" y1="101.60" x2="240.80" y2="101.60" stroke="#5e5e5e" stroke-width="0.8"/>
<line x1="244.50" y1="84.40" x2="244.50" y2="96.40" stroke="#5e5e5e" stroke-width="0.9"/>
<line x1="243.20" y1="84.40" x2="245.80" y2="84.40" stroke="#5e5e5e" stroke-width="0.8"/>
<line x1="243.20" y1="96.40" x2="245.80" y2="96.40" stroke="#5e5e5e" stroke-width="0.8"/>
<line x1="250.50" y1="77.00" x2="250.50" y2="91.00" stroke="#5e5e5e" stroke-width="0.9"/>
<line x1="249.20" y1="77.00" x2="251.80" y2="77.00" stroke="#5e5e5e" stroke-width="0.8"/>
<line x1="249.20" y1="91.00" x2="251.80" y2="91.00" stroke="#5e5e5e" stroke-width="0.8"/>
<line x1="255.50" y1="62.50" x2="255.50" y2="80.50" stroke="#5e5e5e" stroke-width="0.9"/>
<line x1="254.20" y1="62.50" x2="256.80" y2="62.50" stroke="#5e5e5e" stroke-width="0.8"/>
<line x1="254.20" y1="80.50" x2="256.80" y2="80.50" stroke="#5e5e5e" stroke-width="0.8"/>
<line x1="260.50" y1="58.30" x2="260.50" y2="78.30" stroke="#5e5e5e" stroke-width="0.9"/>
<line x1="259.20" y1="58.30" x2="261.80" y2="58.30" stroke="#5e5e5e" stroke-width="0.8"/>
<line x1="259.20" y1="78.30" x2="261.80" y2="78.30" stroke="#5e5e5e" stroke-width="0.8"/>
<line x1="265.50" y1="52.00" x2="265.50" y2="72.00" stroke="#5e5e5e" stroke-width="0.9"/>
<line x1="264.20" y1="52.00" x2="266.80" y2="52.00" stroke="#5e5e5e" stroke-width="0.8"/>
<line x1="264.20" y1="72.00" x2="266.80" y2="72.00" stroke="#5e5e5e" stroke-width="0.8"/>
<circle cx="217.50" cy="120.00" r="1.00" fill="#5e5e5e"/>
<circle cx="223.60" cy="113.00" r="1.00" fill="#5e5e5e"/>
<circle cx="228.30" cy="107.50" r="1.00" fill="#5e5e5e"/>
<circle cx="233.70" cy="101.50" r="1.00" fill="#5e5e5e"/>
<circle cx="239.40" cy="96.60" r="1.00" fill="#5e5e5e"/>
<circle cx="244.70" cy="90.40" r="1.00" fill="#5e5e5e"/>
<circle cx="250.00" cy="84.00" r="1.00" fill="#5e5e5e"/>
<circle cx="255.60" cy="71.50" r="1.00" fill="#5e5e5e"/>
<circle cx="260.30" cy="68.30" r="1.00" fill="#5e5e5e"/>
<circle cx="265.60" cy="62.00" r="1.00" fill="#5e5e5e"/>
<path d="M217.50,120.00 L223.60,113.50 L228.30,108.00 L234.40,102.90 L239.40,98.40 L244.70,92.50 L250.00,87.80 L255.60,84.40 L260.30,82.70 L265.60,79.30 L270.60,71.70" fill="none" stroke="#4c74c4" stroke-width="1.05" stroke-linejoin="round"/>
<line x1="223.50" y1="111.50" x2="223.50" y2="115.50" stroke="#4c74c4" stroke-width="0.9"/>
<line x1="222.20" y1="111.50" x2="224.80" y2="111.50" stroke="#4c74c4" stroke-width="0.8"/>
<line x1="222.20" y1="115.50" x2="224.80" y2="115.50" stroke="#4c74c4" stroke-width="0.8"/>
<line x1="228.50" y1="105.00" x2="228.50" y2="111.00" stroke="#4c74c4" stroke-width="0.9"/>
<line x1="227.20" y1="105.00" x2="229.80" y2="105.00" stroke="#4c74c4" stroke-width="0.8"/>
<line x1="227.20" y1="111.00" x2="229.80" y2="111.00" stroke="#4c74c4" stroke-width="0.8"/>
<line x1="234.50" y1="98.90" x2="234.50" y2="106.90" stroke="#4c74c4" stroke-width="0.9"/>
<line x1="233.20" y1="98.90" x2="235.80" y2="98.90" stroke="#4c74c4" stroke-width="0.8"/>
<line x1="233.20" y1="106.90" x2="235.80" y2="106.90" stroke="#4c74c4" stroke-width="0.8"/>
<line x1="239.50" y1="93.40" x2="239.50" y2="103.40" stroke="#4c74c4" stroke-width="0.9"/>
<line x1="238.20" y1="93.40" x2="240.80" y2="93.40" stroke="#4c74c4" stroke-width="0.8"/>
<line x1="238.20" y1="103.40" x2="240.80" y2="103.40" stroke="#4c74c4" stroke-width="0.8"/>
<line x1="244.50" y1="86.50" x2="244.50" y2="98.50" stroke="#4c74c4" stroke-width="0.9"/>
<line x1="243.20" y1="86.50" x2="245.80" y2="86.50" stroke="#4c74c4" stroke-width="0.8"/>
<line x1="243.20" y1="98.50" x2="245.80" y2="98.50" stroke="#4c74c4" stroke-width="0.8"/>
<line x1="250.50" y1="81.80" x2="250.50" y2="93.80" stroke="#4c74c4" stroke-width="0.9"/>
<line x1="249.20" y1="81.80" x2="251.80" y2="81.80" stroke="#4c74c4" stroke-width="0.8"/>
<line x1="249.20" y1="93.80" x2="251.80" y2="93.80" stroke="#4c74c4" stroke-width="0.8"/>
<line x1="255.50" y1="77.40" x2="255.50" y2="91.40" stroke="#4c74c4" stroke-width="0.9"/>
<line x1="254.20" y1="77.40" x2="256.80" y2="77.40" stroke="#4c74c4" stroke-width="0.8"/>
<line x1="254.20" y1="91.40" x2="256.80" y2="91.40" stroke="#4c74c4" stroke-width="0.8"/>
<line x1="260.50" y1="75.70" x2="260.50" y2="89.70" stroke="#4c74c4" stroke-width="0.9"/>
<line x1="259.20" y1="75.70" x2="261.80" y2="75.70" stroke="#4c74c4" stroke-width="0.8"/>
<line x1="259.20" y1="89.70" x2="261.80" y2="89.70" stroke="#4c74c4" stroke-width="0.8"/>
<line x1="265.50" y1="71.30" x2="265.50" y2="87.30" stroke="#4c74c4" stroke-width="0.9"/>
<line x1="264.20" y1="71.30" x2="266.80" y2="71.30" stroke="#4c74c4" stroke-width="0.8"/>
<line x1="264.20" y1="87.30" x2="266.80" y2="87.30" stroke="#4c74c4" stroke-width="0.8"/>
<line x1="270.50" y1="59.00" x2="270.50" y2="84.00" stroke="#4c74c4" stroke-width="0.9"/>
<line x1="269.20" y1="59.00" x2="271.80" y2="59.00" stroke="#4c74c4" stroke-width="0.8"/>
<line x1="269.20" y1="84.00" x2="271.80" y2="84.00" stroke="#4c74c4" stroke-width="0.8"/>
<polygon points="217.50,118.52 216.01,121.19 218.99,121.19" fill="#4c74c4"/>
<polygon points="223.60,112.02 222.11,114.69 225.09,114.69" fill="#4c74c4"/>
<polygon points="228.30,106.52 226.81,109.19 229.79,109.19" fill="#4c74c4"/>
<polygon points="234.40,101.42 232.91,104.09 235.89,104.09" fill="#4c74c4"/>
<polygon points="239.40,96.92 237.91,99.59 240.89,99.59" fill="#4c74c4"/>
<polygon points="244.70,91.02 243.21,93.69 246.19,93.69" fill="#4c74c4"/>
<polygon points="250.00,86.31 248.51,88.99 251.49,88.99" fill="#4c74c4"/>
<polygon points="255.60,82.92 254.11,85.59 257.08,85.59" fill="#4c74c4"/>
<polygon points="260.30,81.22 258.81,83.89 261.79,83.89" fill="#4c74c4"/>
<polygon points="265.60,77.81 264.12,80.49 267.09,80.49" fill="#4c74c4"/>
<polygon points="270.60,70.22 269.12,72.89 272.09,72.89" fill="#4c74c4"/>
<path d="M217.50,120.00 L223.80,113.60 L229.10,109.60 L234.40,109.40 L239.40,110.00 L244.70,115.50 L250.00,118.00 L255.60,116.60 L260.30,114.00 L265.60,113.00 L270.60,110.70 L275.90,107.60 L286.80,101.30 L298.60,92.50" fill="none" stroke="#7e2128" stroke-width="1.05" stroke-linejoin="round"/>
<line x1="223.50" y1="111.60" x2="223.50" y2="115.60" stroke="#7e2128" stroke-width="0.9"/>
<line x1="222.20" y1="111.60" x2="224.80" y2="111.60" stroke="#7e2128" stroke-width="0.8"/>
<line x1="222.20" y1="115.60" x2="224.80" y2="115.60" stroke="#7e2128" stroke-width="0.8"/>
<line x1="229.50" y1="106.60" x2="229.50" y2="112.60" stroke="#7e2128" stroke-width="0.9"/>
<line x1="228.20" y1="106.60" x2="230.80" y2="106.60" stroke="#7e2128" stroke-width="0.8"/>
<line x1="228.20" y1="112.60" x2="230.80" y2="112.60" stroke="#7e2128" stroke-width="0.8"/>
<line x1="234.50" y1="106.40" x2="234.50" y2="112.40" stroke="#7e2128" stroke-width="0.9"/>
<line x1="233.20" y1="106.40" x2="235.80" y2="106.40" stroke="#7e2128" stroke-width="0.8"/>
<line x1="233.20" y1="112.40" x2="235.80" y2="112.40" stroke="#7e2128" stroke-width="0.8"/>
<line x1="239.50" y1="106.00" x2="239.50" y2="114.00" stroke="#7e2128" stroke-width="0.9"/>
<line x1="238.20" y1="106.00" x2="240.80" y2="106.00" stroke="#7e2128" stroke-width="0.8"/>
<line x1="238.20" y1="114.00" x2="240.80" y2="114.00" stroke="#7e2128" stroke-width="0.8"/>
<line x1="244.50" y1="111.50" x2="244.50" y2="119.50" stroke="#7e2128" stroke-width="0.9"/>
<line x1="243.20" y1="111.50" x2="245.80" y2="111.50" stroke="#7e2128" stroke-width="0.8"/>
<line x1="243.20" y1="119.50" x2="245.80" y2="119.50" stroke="#7e2128" stroke-width="0.8"/>
<line x1="250.50" y1="114.00" x2="250.50" y2="122.00" stroke="#7e2128" stroke-width="0.9"/>
<line x1="249.20" y1="114.00" x2="251.80" y2="114.00" stroke="#7e2128" stroke-width="0.8"/>
<line x1="249.20" y1="122.00" x2="251.80" y2="122.00" stroke="#7e2128" stroke-width="0.8"/>
<line x1="255.50" y1="112.60" x2="255.50" y2="120.60" stroke="#7e2128" stroke-width="0.9"/>
<line x1="254.20" y1="112.60" x2="256.80" y2="112.60" stroke="#7e2128" stroke-width="0.8"/>
<line x1="254.20" y1="120.60" x2="256.80" y2="120.60" stroke="#7e2128" stroke-width="0.8"/>
<line x1="260.50" y1="109.00" x2="260.50" y2="119.00" stroke="#7e2128" stroke-width="0.9"/>
<line x1="259.20" y1="109.00" x2="261.80" y2="109.00" stroke="#7e2128" stroke-width="0.8"/>
<line x1="259.20" y1="119.00" x2="261.80" y2="119.00" stroke="#7e2128" stroke-width="0.8"/>
<line x1="265.50" y1="108.00" x2="265.50" y2="118.00" stroke="#7e2128" stroke-width="0.9"/>
<line x1="264.20" y1="108.00" x2="266.80" y2="108.00" stroke="#7e2128" stroke-width="0.8"/>
<line x1="264.20" y1="118.00" x2="266.80" y2="118.00" stroke="#7e2128" stroke-width="0.8"/>
<line x1="270.50" y1="105.70" x2="270.50" y2="115.70" stroke="#7e2128" stroke-width="0.9"/>
<line x1="269.20" y1="105.70" x2="271.80" y2="105.70" stroke="#7e2128" stroke-width="0.8"/>
<line x1="269.20" y1="115.70" x2="271.80" y2="115.70" stroke="#7e2128" stroke-width="0.8"/>
<line x1="275.50" y1="101.60" x2="275.50" y2="113.60" stroke="#7e2128" stroke-width="0.9"/>
<line x1="274.20" y1="101.60" x2="276.80" y2="101.60" stroke="#7e2128" stroke-width="0.8"/>
<line x1="274.20" y1="113.60" x2="276.80" y2="113.60" stroke="#7e2128" stroke-width="0.8"/>
<line x1="286.50" y1="94.30" x2="286.50" y2="108.30" stroke="#7e2128" stroke-width="0.9"/>
<line x1="285.20" y1="94.30" x2="287.80" y2="94.30" stroke="#7e2128" stroke-width="0.8"/>
<line x1="285.20" y1="108.30" x2="287.80" y2="108.30" stroke="#7e2128" stroke-width="0.8"/>
<line x1="298.50" y1="78.00" x2="298.50" y2="107.40" stroke="#7e2128" stroke-width="0.9"/>
<line x1="297.20" y1="78.00" x2="299.80" y2="78.00" stroke="#7e2128" stroke-width="0.8"/>
<line x1="297.20" y1="107.40" x2="299.80" y2="107.40" stroke="#7e2128" stroke-width="0.8"/>
<circle cx="217.50" cy="120.00" r="1.35" fill="#7e2128"/>
<circle cx="223.80" cy="113.60" r="1.35" fill="#7e2128"/>
<circle cx="229.10" cy="109.60" r="1.35" fill="#7e2128"/>
<circle cx="234.40" cy="109.40" r="1.35" fill="#7e2128"/>
<circle cx="239.40" cy="110.00" r="1.35" fill="#7e2128"/>
<circle cx="244.70" cy="115.50" r="1.35" fill="#7e2128"/>
<circle cx="250.00" cy="118.00" r="1.35" fill="#7e2128"/>
<circle cx="255.60" cy="116.60" r="1.35" fill="#7e2128"/>
<circle cx="260.30" cy="114.00" r="1.35" fill="#7e2128"/>
<circle cx="265.60" cy="113.00" r="1.35" fill="#7e2128"/>
<circle cx="270.60" cy="110.70" r="1.35" fill="#7e2128"/>
<circle cx="275.90" cy="107.60" r="1.35" fill="#7e2128"/>
<circle cx="286.80" cy="101.30" r="1.35" fill="#7e2128"/>
<circle cx="298.60" cy="92.50" r="1.35" fill="#7e2128"/>
<path d="M217.50,120.00 L223.60,112.80 L228.30,106.70 L233.70,100.30 L239.40,90.80 L244.70,82.30 L250.00,73.80 L255.60,62.40 L259.50,62.00 L265.90,45.60" fill="none" stroke="#111" stroke-width="1.05" stroke-linejoin="round"/>
<line x1="223.50" y1="110.80" x2="223.50" y2="114.80" stroke="#111" stroke-width="0.9"/>
<line x1="222.20" y1="110.80" x2="224.80" y2="110.80" stroke="#111" stroke-width="0.8"/>
<line x1="222.20" y1="114.80" x2="224.80" y2="114.80" stroke="#111" stroke-width="0.8"/>
<line x1="228.50" y1="103.70" x2="228.50" y2="109.70" stroke="#111" stroke-width="0.9"/>
<line x1="227.20" y1="103.70" x2="229.80" y2="103.70" stroke="#111" stroke-width="0.8"/>
<line x1="227.20" y1="109.70" x2="229.80" y2="109.70" stroke="#111" stroke-width="0.8"/>
<line x1="233.50" y1="96.30" x2="233.50" y2="104.30" stroke="#111" stroke-width="0.9"/>
<line x1="232.20" y1="96.30" x2="234.80" y2="96.30" stroke="#111" stroke-width="0.8"/>
<line x1="232.20" y1="104.30" x2="234.80" y2="104.30" stroke="#111" stroke-width="0.8"/>
<line x1="239.50" y1="85.80" x2="239.50" y2="95.80" stroke="#111" stroke-width="0.9"/>
<line x1="238.20" y1="85.80" x2="240.80" y2="85.80" stroke="#111" stroke-width="0.8"/>
<line x1="238.20" y1="95.80" x2="240.80" y2="95.80" stroke="#111" stroke-width="0.8"/>
<line x1="244.50" y1="76.30" x2="244.50" y2="88.30" stroke="#111" stroke-width="0.9"/>
<line x1="243.20" y1="76.30" x2="245.80" y2="76.30" stroke="#111" stroke-width="0.8"/>
<line x1="243.20" y1="88.30" x2="245.80" y2="88.30" stroke="#111" stroke-width="0.8"/>
<line x1="250.50" y1="65.80" x2="250.50" y2="81.80" stroke="#111" stroke-width="0.9"/>
<line x1="249.20" y1="65.80" x2="251.80" y2="65.80" stroke="#111" stroke-width="0.8"/>
<line x1="249.20" y1="81.80" x2="251.80" y2="81.80" stroke="#111" stroke-width="0.8"/>
<line x1="255.50" y1="50.40" x2="255.50" y2="74.40" stroke="#111" stroke-width="0.9"/>
<line x1="254.20" y1="50.40" x2="256.80" y2="50.40" stroke="#111" stroke-width="0.8"/>
<line x1="254.20" y1="74.40" x2="256.80" y2="74.40" stroke="#111" stroke-width="0.8"/>
<line x1="259.50" y1="52.00" x2="259.50" y2="72.00" stroke="#111" stroke-width="0.9"/>
<line x1="258.20" y1="52.00" x2="260.80" y2="52.00" stroke="#111" stroke-width="0.8"/>
<line x1="258.20" y1="72.00" x2="260.80" y2="72.00" stroke="#111" stroke-width="0.8"/>
<line x1="265.50" y1="32.70" x2="265.50" y2="59.00" stroke="#111" stroke-width="0.9"/>
<line x1="264.20" y1="32.70" x2="266.80" y2="32.70" stroke="#111" stroke-width="0.8"/>
<line x1="264.20" y1="59.00" x2="266.80" y2="59.00" stroke="#111" stroke-width="0.8"/>
<circle cx="217.50" cy="120.00" r="1.35" fill="#111"/>
<circle cx="223.60" cy="112.80" r="1.35" fill="#111"/>
<circle cx="228.30" cy="106.70" r="1.35" fill="#111"/>
<circle cx="233.70" cy="100.30" r="1.35" fill="#111"/>
<circle cx="239.40" cy="90.80" r="1.35" fill="#111"/>
<circle cx="244.70" cy="82.30" r="1.35" fill="#111"/>
<circle cx="250.00" cy="73.80" r="1.35" fill="#111"/>
<circle cx="255.60" cy="62.40" r="1.35" fill="#111"/>
<circle cx="259.50" cy="62.00" r="1.35" fill="#111"/>
<circle cx="265.90" cy="45.60" r="1.35" fill="#111"/>
<line x1="276.00" y1="28.50" x2="282.60" y2="28.50" stroke="#111" stroke-width="1.25"/>
<circle cx="278.70" cy="28.50" r="1.25" fill="#111"/>
<text x="284.20" y="30.52" font-size="5.6" fill="#1a1a1a" stroke="#1a1a1a" stroke-width="0.16">Untreated</text>
<line x1="276.00" y1="35.30" x2="282.60" y2="35.30" stroke="#5e5e5e" stroke-width="1.25"/>
<circle cx="278.70" cy="35.30" r="1.25" fill="#5e5e5e"/>
<text x="284.20" y="37.32" font-size="5.6" fill="#1a1a1a" stroke="#1a1a1a" stroke-width="0.16">Control IgG-PBD 0.3 mg/kg</text>
<line x1="276.00" y1="43.00" x2="282.60" y2="43.00" stroke="#4c74c4" stroke-width="1.25"/>
<polygon points="278.70,41.62 277.32,44.10 280.07,44.10" fill="#4c74c4"/>
<text x="284.20" y="45.02" font-size="5.6" fill="#1a1a1a" stroke="#1a1a1a" stroke-width="0.16">5T4-PBD 0.1 mg/kg</text>
<line x1="276.00" y1="50.60" x2="282.60" y2="50.60" stroke="#7e2128" stroke-width="1.25"/>
<circle cx="278.70" cy="50.60" r="1.25" fill="#7e2128"/>
<text x="284.20" y="52.62" font-size="5.6" fill="#1a1a1a" stroke="#1a1a1a" stroke-width="0.16">5T4-PBD 0.3 mg/kg</text>
<line x1="404.20" y1="31.00" x2="404.20" y2="132.20" stroke="#1e1e1e" stroke-width="1.15"/>
<line x1="401.80" y1="131.70" x2="404.20" y2="131.70" stroke="#222" stroke-width="0.8"/>
<text x="401.70" y="133.45" font-size="4.9" text-anchor="end" fill="#1a1a1a" font-weight="normal" font-style="normal" stroke="#1a1a1a" stroke-width="0.12">0</text>
<line x1="401.80" y1="115.02" x2="404.20" y2="115.02" stroke="#222" stroke-width="0.8"/>
<text x="401.70" y="116.77" font-size="4.9" text-anchor="end" fill="#1a1a1a" font-weight="normal" font-style="normal" stroke="#1a1a1a" stroke-width="0.12">500</text>
<line x1="401.80" y1="98.33" x2="404.20" y2="98.33" stroke="#222" stroke-width="0.8"/>
<text x="401.70" y="100.08" font-size="4.9" text-anchor="end" fill="#1a1a1a" font-weight="normal" font-style="normal" stroke="#1a1a1a" stroke-width="0.12">1,000</text>
<line x1="401.80" y1="81.65" x2="404.20" y2="81.65" stroke="#222" stroke-width="0.8"/>
<text x="401.70" y="83.40" font-size="4.9" text-anchor="end" fill="#1a1a1a" font-weight="normal" font-style="normal" stroke="#1a1a1a" stroke-width="0.12">1,500</text>
<line x1="401.80" y1="64.97" x2="404.20" y2="64.97" stroke="#222" stroke-width="0.8"/>
<text x="401.70" y="66.72" font-size="4.9" text-anchor="end" fill="#1a1a1a" font-weight="normal" font-style="normal" stroke="#1a1a1a" stroke-width="0.12">2,000</text>
<line x1="401.80" y1="48.28" x2="404.20" y2="48.28" stroke="#222" stroke-width="0.8"/>
<text x="401.70" y="50.03" font-size="4.9" text-anchor="end" fill="#1a1a1a" font-weight="normal" font-style="normal" stroke="#1a1a1a" stroke-width="0.12">2,500</text>
<line x1="401.80" y1="31.60" x2="404.20" y2="31.60" stroke="#222" stroke-width="0.8"/>
<text x="401.70" y="33.35" font-size="4.9" text-anchor="end" fill="#1a1a1a" font-weight="normal" font-style="normal" stroke="#1a1a1a" stroke-width="0.12">3,000</text>
<line x1="403.70" y1="131.70" x2="509.00" y2="131.70" stroke="#1e1e1e" stroke-width="1.15"/>
<line x1="405.40" y1="131.70" x2="405.40" y2="133.00" stroke="#333" stroke-width="0.5"/>
<line x1="409.52" y1="131.70" x2="409.52" y2="133.00" stroke="#333" stroke-width="0.5"/>
<line x1="413.63" y1="131.70" x2="413.63" y2="133.00" stroke="#333" stroke-width="0.5"/>
<line x1="417.75" y1="131.70" x2="417.75" y2="133.00" stroke="#333" stroke-width="0.5"/>
<line x1="421.86" y1="131.70" x2="421.86" y2="133.00" stroke="#333" stroke-width="0.5"/>
<line x1="425.98" y1="131.70" x2="425.98" y2="133.00" stroke="#333" stroke-width="0.5"/>
<line x1="430.10" y1="131.70" x2="430.10" y2="133.00" stroke="#333" stroke-width="0.5"/>
<line x1="434.21" y1="131.70" x2="434.21" y2="133.00" stroke="#333" stroke-width="0.5"/>
<line x1="438.33" y1="131.70" x2="438.33" y2="133.00" stroke="#333" stroke-width="0.5"/>
<line x1="442.44" y1="131.70" x2="442.44" y2="133.00" stroke="#333" stroke-width="0.5"/>
<line x1="446.56" y1="131.70" x2="446.56" y2="133.00" stroke="#333" stroke-width="0.5"/>
<line x1="450.68" y1="131.70" x2="450.68" y2="133.00" stroke="#333" stroke-width="0.5"/>
<line x1="454.79" y1="131.70" x2="454.79" y2="133.00" stroke="#333" stroke-width="0.5"/>
<line x1="458.91" y1="131.70" x2="458.91" y2="133.00" stroke="#333" stroke-width="0.5"/>
<line x1="463.02" y1="131.70" x2="463.02" y2="133.00" stroke="#333" stroke-width="0.5"/>
<line x1="467.14" y1="131.70" x2="467.14" y2="133.00" stroke="#333" stroke-width="0.5"/>
<line x1="471.26" y1="131.70" x2="471.26" y2="133.00" stroke="#333" stroke-width="0.5"/>
<line x1="475.37" y1="131.70" x2="475.37" y2="133.00" stroke="#333" stroke-width="0.5"/>
<line x1="479.49" y1="131.70" x2="479.49" y2="133.00" stroke="#333" stroke-width="0.5"/>
<line x1="483.60" y1="131.70" x2="483.60" y2="133.00" stroke="#333" stroke-width="0.5"/>
<line x1="487.72" y1="131.70" x2="487.72" y2="133.00" stroke="#333" stroke-width="0.5"/>
<line x1="491.84" y1="131.70" x2="491.84" y2="133.00" stroke="#333" stroke-width="0.5"/>
<line x1="495.95" y1="131.70" x2="495.95" y2="133.00" stroke="#333" stroke-width="0.5"/>
<line x1="500.07" y1="131.70" x2="500.07" y2="133.00" stroke="#333" stroke-width="0.5"/>
<line x1="504.18" y1="131.70" x2="504.18" y2="133.00" stroke="#333" stroke-width="0.5"/>
<line x1="508.30" y1="131.70" x2="508.30" y2="133.00" stroke="#333" stroke-width="0.5"/>
<line x1="405.40" y1="131.70" x2="405.40" y2="133.70" stroke="#222" stroke-width="0.8"/>
<text x="405.40" y="139.60" font-size="4.9" text-anchor="middle" fill="#1a1a1a" font-weight="normal" font-style="normal" stroke="#1a1a1a" stroke-width="0.12">0</text>
<line x1="425.98" y1="131.70" x2="425.98" y2="133.70" stroke="#222" stroke-width="0.8"/>
<text x="425.98" y="139.60" font-size="4.9" text-anchor="middle" fill="#1a1a1a" font-weight="normal" font-style="normal" stroke="#1a1a1a" stroke-width="0.12">10</text>
<line x1="446.56" y1="131.70" x2="446.56" y2="133.70" stroke="#222" stroke-width="0.8"/>
<text x="446.56" y="139.60" font-size="4.9" text-anchor="middle" fill="#1a1a1a" font-weight="normal" font-style="normal" stroke="#1a1a1a" stroke-width="0.12">20</text>
<line x1="467.14" y1="131.70" x2="467.14" y2="133.70" stroke="#222" stroke-width="0.8"/>
<text x="467.14" y="139.60" font-size="4.9" text-anchor="middle" fill="#1a1a1a" font-weight="normal" font-style="normal" stroke="#1a1a1a" stroke-width="0.12">30</text>
<line x1="487.72" y1="131.70" x2="487.72" y2="133.70" stroke="#222" stroke-width="0.8"/>
<text x="487.72" y="139.60" font-size="4.9" text-anchor="middle" fill="#1a1a1a" font-weight="normal" font-style="normal" stroke="#1a1a1a" stroke-width="0.12">40</text>
<line x1="508.30" y1="131.70" x2="508.30" y2="133.70" stroke="#222" stroke-width="0.8"/>
<text x="508.30" y="139.60" font-size="4.9" text-anchor="middle" fill="#1a1a1a" font-weight="normal" font-style="normal" stroke="#1a1a1a" stroke-width="0.12">50</text>
<line x1="404.20" y1="124.60" x2="510.00" y2="124.60" stroke="#333" stroke-width="0.6" stroke-dasharray="1.4,1.2"/>
<text transform="translate(382.80,81.50) rotate(-90)" x="0" y="2.48" font-size="7.1" text-anchor="middle" fill="#231f20" stroke="#231f20" stroke-width="0.08" textLength="65.50" lengthAdjust="spacingAndGlyphs">Tumor volume (mm<tspan font-size="4.62" dy="-2.48">3</tspan><tspan dy="2.48">)</tspan></text>
<polygon points="417.90,141.30 416.00,145.40 419.80,145.40" fill="#111"/>
<text x="421.00" y="145.40" font-size="5.2" text-anchor="start" fill="#2a2a2a" font-weight="normal" font-style="normal" textLength="32.90" lengthAdjust="spacingAndGlyphs" stroke="#2a2a2a" stroke-width="0.05">Single dose i.v.</text>
<text x="424.60" y="154.00" font-size="7" text-anchor="start" fill="#231f20" font-weight="normal" font-style="normal" textLength="67.40" lengthAdjust="spacingAndGlyphs" stroke="#231f20" stroke-width="0.18">Days post implantation</text>
<path d="M423.90,124.90 L433.50,120.00 L441.00,115.50 L449.00,105.50 L456.40,98.60 L463.80,85.80 L472.10,64.00" fill="none" stroke="#5e5e5e" stroke-width="1.05" stroke-linejoin="round"/>
<line x1="433.50" y1="119.00" x2="433.50" y2="121.00" stroke="#5e5e5e" stroke-width="0.9"/>
<line x1="432.20" y1="119.00" x2="434.80" y2="119.00" stroke="#5e5e5e" stroke-width="0.8"/>
<line x1="432.20" y1="121.00" x2="434.80" y2="121.00" stroke="#5e5e5e" stroke-width="0.8"/>
<line x1="441.50" y1="113.50" x2="441.50" y2="117.50" stroke="#5e5e5e" stroke-width="0.9"/>
<line x1="440.20" y1="113.50" x2="442.80" y2="113.50" stroke="#5e5e5e" stroke-width="0.8"/>
<line x1="440.20" y1="117.50" x2="442.80" y2="117.50" stroke="#5e5e5e" stroke-width="0.8"/>
<line x1="449.50" y1="102.50" x2="449.50" y2="108.50" stroke="#5e5e5e" stroke-width="0.9"/>
<line x1="448.20" y1="102.50" x2="450.80" y2="102.50" stroke="#5e5e5e" stroke-width="0.8"/>
<line x1="448.20" y1="108.50" x2="450.80" y2="108.50" stroke="#5e5e5e" stroke-width="0.8"/>
<line x1="456.50" y1="93.60" x2="456.50" y2="103.60" stroke="#5e5e5e" stroke-width="0.9"/>
<line x1="455.20" y1="93.60" x2="457.80" y2="93.60" stroke="#5e5e5e" stroke-width="0.8"/>
<line x1="455.20" y1="103.60" x2="457.80" y2="103.60" stroke="#5e5e5e" stroke-width="0.8"/>
<line x1="463.50" y1="79.80" x2="463.50" y2="91.80" stroke="#5e5e5e" stroke-width="0.9"/>
<line x1="462.20" y1="79.80" x2="464.80" y2="79.80" stroke="#5e5e5e" stroke-width="0.8"/>
<line x1="462.20" y1="91.80" x2="464.80" y2="91.80" stroke="#5e5e5e" stroke-width="0.8"/>
<line x1="472.50" y1="57.00" x2="472.50" y2="79.00" stroke="#5e5e5e" stroke-width="0.9"/>
<line x1="471.20" y1="57.00" x2="473.80" y2="57.00" stroke="#5e5e5e" stroke-width="0.8"/>
<line x1="471.20" y1="79.00" x2="473.80" y2="79.00" stroke="#5e5e5e" stroke-width="0.8"/>
<circle cx="423.90" cy="124.90" r="1.00" fill="#5e5e5e"/>
<circle cx="433.50" cy="120.00" r="1.00" fill="#5e5e5e"/>
<circle cx="441.00" cy="115.50" r="1.00" fill="#5e5e5e"/>
<circle cx="449.00" cy="105.50" r="1.00" fill="#5e5e5e"/>
<circle cx="456.40" cy="98.60" r="1.00" fill="#5e5e5e"/>
<circle cx="463.80" cy="85.80" r="1.00" fill="#5e5e5e"/>
<circle cx="472.10" cy="64.00" r="1.00" fill="#5e5e5e"/>
<path d="M423.90,124.90 L433.50,118.30 L441.00,114.80 L449.00,110.40 L456.40,107.50 L463.80,105.10 L472.10,97.10 L486.10,75.50" fill="none" stroke="#4c74c4" stroke-width="1.05" stroke-linejoin="round"/>
<line x1="433.50" y1="117.30" x2="433.50" y2="119.30" stroke="#4c74c4" stroke-width="0.9"/>
<line x1="432.20" y1="117.30" x2="434.80" y2="117.30" stroke="#4c74c4" stroke-width="0.8"/>
<line x1="432.20" y1="119.30" x2="434.80" y2="119.30" stroke="#4c74c4" stroke-width="0.8"/>
<line x1="441.50" y1="112.80" x2="441.50" y2="116.80" stroke="#4c74c4" stroke-width="0.9"/>
<line x1="440.20" y1="112.80" x2="442.80" y2="112.80" stroke="#4c74c4" stroke-width="0.8"/>
<line x1="440.20" y1="116.80" x2="442.80" y2="116.80" stroke="#4c74c4" stroke-width="0.8"/>
<line x1="449.50" y1="108.40" x2="449.50" y2="112.40" stroke="#4c74c4" stroke-width="0.9"/>
<line x1="448.20" y1="108.40" x2="450.80" y2="108.40" stroke="#4c74c4" stroke-width="0.8"/>
<line x1="448.20" y1="112.40" x2="450.80" y2="112.40" stroke="#4c74c4" stroke-width="0.8"/>
<line x1="456.50" y1="105.00" x2="456.50" y2="110.00" stroke="#4c74c4" stroke-width="0.9"/>
<line x1="455.20" y1="105.00" x2="457.80" y2="105.00" stroke="#4c74c4" stroke-width="0.8"/>
<line x1="455.20" y1="110.00" x2="457.80" y2="110.00" stroke="#4c74c4" stroke-width="0.8"/>
<line x1="463.50" y1="102.10" x2="463.50" y2="108.10" stroke="#4c74c4" stroke-width="0.9"/>
<line x1="462.20" y1="102.10" x2="464.80" y2="102.10" stroke="#4c74c4" stroke-width="0.8"/>
<line x1="462.20" y1="108.10" x2="464.80" y2="108.10" stroke="#4c74c4" stroke-width="0.8"/>
<line x1="472.50" y1="93.60" x2="472.50" y2="100.60" stroke="#4c74c4" stroke-width="0.9"/>
<line x1="471.20" y1="93.60" x2="473.80" y2="93.60" stroke="#4c74c4" stroke-width="0.8"/>
<line x1="471.20" y1="100.60" x2="473.80" y2="100.60" stroke="#4c74c4" stroke-width="0.8"/>
<line x1="486.50" y1="66.50" x2="486.50" y2="84.50" stroke="#4c74c4" stroke-width="0.9"/>
<line x1="485.20" y1="66.50" x2="487.80" y2="66.50" stroke="#4c74c4" stroke-width="0.8"/>
<line x1="485.20" y1="84.50" x2="487.80" y2="84.50" stroke="#4c74c4" stroke-width="0.8"/>
<polygon points="423.90,123.42 422.41,126.09 425.38,126.09" fill="#4c74c4"/>
<polygon points="433.50,116.81 432.01,119.49 434.99,119.49" fill="#4c74c4"/>
<polygon points="441.00,113.31 439.51,115.99 442.49,115.99" fill="#4c74c4"/>
<polygon points="449.00,108.92 447.51,111.59 450.49,111.59" fill="#4c74c4"/>
<polygon points="456.40,106.02 454.91,108.69 457.88,108.69" fill="#4c74c4"/>
<polygon points="463.80,103.61 462.31,106.29 465.29,106.29" fill="#4c74c4"/>
<polygon points="472.10,95.61 470.62,98.29 473.59,98.29" fill="#4c74c4"/>
<polygon points="486.10,74.02 484.62,76.69 487.59,76.69" fill="#4c74c4"/>
<path d="M423.90,124.90 L441.00,117.60 L449.00,121.70 L456.40,123.80 L463.80,123.80 L472.10,120.60 L486.10,107.00 L500.70,87.20" fill="none" stroke="#7e2128" stroke-width="1.05" stroke-linejoin="round"/>
<line x1="441.50" y1="116.10" x2="441.50" y2="119.10" stroke="#7e2128" stroke-width="0.9"/>
<line x1="440.20" y1="116.10" x2="442.80" y2="116.10" stroke="#7e2128" stroke-width="0.8"/>
<line x1="440.20" y1="119.10" x2="442.80" y2="119.10" stroke="#7e2128" stroke-width="0.8"/>
<line x1="449.50" y1="120.20" x2="449.50" y2="123.20" stroke="#7e2128" stroke-width="0.9"/>
<line x1="448.20" y1="120.20" x2="450.80" y2="120.20" stroke="#7e2128" stroke-width="0.8"/>
<line x1="448.20" y1="123.20" x2="450.80" y2="123.20" stroke="#7e2128" stroke-width="0.8"/>
<line x1="456.50" y1="121.80" x2="456.50" y2="125.80" stroke="#7e2128" stroke-width="0.9"/>
<line x1="455.20" y1="121.80" x2="457.80" y2="121.80" stroke="#7e2128" stroke-width="0.8"/>
<line x1="455.20" y1="125.80" x2="457.80" y2="125.80" stroke="#7e2128" stroke-width="0.8"/>
<line x1="463.50" y1="121.80" x2="463.50" y2="125.80" stroke="#7e2128" stroke-width="0.9"/>
<line x1="462.20" y1="121.80" x2="464.80" y2="121.80" stroke="#7e2128" stroke-width="0.8"/>
<line x1="462.20" y1="125.80" x2="464.80" y2="125.80" stroke="#7e2128" stroke-width="0.8"/>
<line x1="472.50" y1="118.10" x2="472.50" y2="123.10" stroke="#7e2128" stroke-width="0.9"/>
<line x1="471.20" y1="118.10" x2="473.80" y2="118.10" stroke="#7e2128" stroke-width="0.8"/>
<line x1="471.20" y1="123.10" x2="473.80" y2="123.10" stroke="#7e2128" stroke-width="0.8"/>
<line x1="486.50" y1="97.10" x2="486.50" y2="116.40" stroke="#7e2128" stroke-width="0.9"/>
<line x1="485.20" y1="97.10" x2="487.80" y2="97.10" stroke="#7e2128" stroke-width="0.8"/>
<line x1="485.20" y1="116.40" x2="487.80" y2="116.40" stroke="#7e2128" stroke-width="0.8"/>
<line x1="500.50" y1="69.00" x2="500.50" y2="106.00" stroke="#7e2128" stroke-width="0.9"/>
<line x1="499.20" y1="69.00" x2="501.80" y2="69.00" stroke="#7e2128" stroke-width="0.8"/>
<line x1="499.20" y1="106.00" x2="501.80" y2="106.00" stroke="#7e2128" stroke-width="0.8"/>
<circle cx="423.90" cy="124.90" r="1.35" fill="#7e2128"/>
<circle cx="441.00" cy="117.60" r="1.35" fill="#7e2128"/>
<circle cx="449.00" cy="121.70" r="1.35" fill="#7e2128"/>
<circle cx="456.40" cy="123.80" r="1.35" fill="#7e2128"/>
<circle cx="463.80" cy="123.80" r="1.35" fill="#7e2128"/>
<circle cx="472.10" cy="120.60" r="1.35" fill="#7e2128"/>
<circle cx="486.10" cy="107.00" r="1.35" fill="#7e2128"/>
<circle cx="500.70" cy="87.20" r="1.35" fill="#7e2128"/>
<path d="M423.90,124.90 L433.50,119.80 L441.00,115.00 L449.00,103.60 L456.40,94.20 L463.80,79.60 L472.10,53.20" fill="none" stroke="#111" stroke-width="1.05" stroke-linejoin="round"/>
<line x1="433.50" y1="118.80" x2="433.50" y2="120.80" stroke="#111" stroke-width="0.9"/>
<line x1="432.20" y1="118.80" x2="434.80" y2="118.80" stroke="#111" stroke-width="0.8"/>
<line x1="432.20" y1="120.80" x2="434.80" y2="120.80" stroke="#111" stroke-width="0.8"/>
<line x1="441.50" y1="113.00" x2="441.50" y2="117.00" stroke="#111" stroke-width="0.9"/>
<line x1="440.20" y1="113.00" x2="442.80" y2="113.00" stroke="#111" stroke-width="0.8"/>
<line x1="440.20" y1="117.00" x2="442.80" y2="117.00" stroke="#111" stroke-width="0.8"/>
<line x1="449.50" y1="100.60" x2="449.50" y2="106.60" stroke="#111" stroke-width="0.9"/>
<line x1="448.20" y1="100.60" x2="450.80" y2="100.60" stroke="#111" stroke-width="0.8"/>
<line x1="448.20" y1="106.60" x2="450.80" y2="106.60" stroke="#111" stroke-width="0.8"/>
<line x1="456.50" y1="89.20" x2="456.50" y2="99.20" stroke="#111" stroke-width="0.9"/>
<line x1="455.20" y1="89.20" x2="457.80" y2="89.20" stroke="#111" stroke-width="0.8"/>
<line x1="455.20" y1="99.20" x2="457.80" y2="99.20" stroke="#111" stroke-width="0.8"/>
<line x1="463.50" y1="73.60" x2="463.50" y2="85.60" stroke="#111" stroke-width="0.9"/>
<line x1="462.20" y1="73.60" x2="464.80" y2="73.60" stroke="#111" stroke-width="0.8"/>
<line x1="462.20" y1="85.60" x2="464.80" y2="85.60" stroke="#111" stroke-width="0.8"/>
<line x1="472.50" y1="40.40" x2="472.50" y2="69.60" stroke="#111" stroke-width="0.9"/>
<line x1="471.20" y1="40.40" x2="473.80" y2="40.40" stroke="#111" stroke-width="0.8"/>
<line x1="471.20" y1="69.60" x2="473.80" y2="69.60" stroke="#111" stroke-width="0.8"/>
<circle cx="423.90" cy="124.90" r="1.35" fill="#111"/>
<circle cx="433.50" cy="119.80" r="1.35" fill="#111"/>
<circle cx="441.00" cy="115.00" r="1.35" fill="#111"/>
<circle cx="449.00" cy="103.60" r="1.35" fill="#111"/>
<circle cx="456.40" cy="94.20" r="1.35" fill="#111"/>
<circle cx="463.80" cy="79.60" r="1.35" fill="#111"/>
<circle cx="472.10" cy="53.20" r="1.35" fill="#111"/>
<line x1="407.20" y1="27.05" x2="417.50" y2="27.05" stroke="#111" stroke-width="1.25"/>
<circle cx="411.75" cy="27.05" r="1.25" fill="#111"/>
<text x="423.00" y="28.87" font-size="5.06" fill="#1a1a1a" stroke="#1a1a1a" stroke-width="0.16">Untreated</text>
<line x1="407.20" y1="34.40" x2="417.50" y2="34.40" stroke="#5e5e5e" stroke-width="1.25"/>
<circle cx="411.75" cy="34.40" r="1.25" fill="#5e5e5e"/>
<text x="423.00" y="36.22" font-size="5.06" fill="#1a1a1a" stroke="#1a1a1a" stroke-width="0.16">Control IgG-PBD 0.3 mg/kg</text>
<line x1="407.20" y1="42.50" x2="417.50" y2="42.50" stroke="#4c74c4" stroke-width="1.25"/>
<polygon points="411.75,41.12 410.38,43.60 413.12,43.60" fill="#4c74c4"/>
<text x="423.00" y="44.32" font-size="5.06" fill="#1a1a1a" stroke="#1a1a1a" stroke-width="0.16">5T4-PBD 0.1 mg/kg</text>
<line x1="407.20" y1="50.20" x2="417.50" y2="50.20" stroke="#7e2128" stroke-width="1.25"/>
<circle cx="411.75" cy="50.20" r="1.25" fill="#7e2128"/>
<text x="423.00" y="52.02" font-size="5.06" fill="#1a1a1a" stroke="#1a1a1a" stroke-width="0.16">5T4-PBD 0.3 mg/kg</text>
<line x1="27.80" y1="198.90" x2="27.80" y2="299.50" stroke="#1e1e1e" stroke-width="1.15"/>
<line x1="25.40" y1="299.00" x2="27.80" y2="299.00" stroke="#222" stroke-width="0.8"/>
<text x="25.30" y="300.75" font-size="4.9" text-anchor="end" fill="#1a1a1a" font-weight="normal" font-style="normal" stroke="#1a1a1a" stroke-width="0.12">0</text>
<line x1="25.40" y1="285.63" x2="27.80" y2="285.63" stroke="#222" stroke-width="0.8"/>
<text x="25.30" y="287.38" font-size="4.9" text-anchor="end" fill="#1a1a1a" font-weight="normal" font-style="normal" stroke="#1a1a1a" stroke-width="0.12">200</text>
<line x1="25.40" y1="272.26" x2="27.80" y2="272.26" stroke="#222" stroke-width="0.8"/>
<text x="25.30" y="274.01" font-size="4.9" text-anchor="end" fill="#1a1a1a" font-weight="normal" font-style="normal" stroke="#1a1a1a" stroke-width="0.12">400</text>
<line x1="25.40" y1="258.89" x2="27.80" y2="258.89" stroke="#222" stroke-width="0.8"/>
<text x="25.30" y="260.64" font-size="4.9" text-anchor="end" fill="#1a1a1a" font-weight="normal" font-style="normal" stroke="#1a1a1a" stroke-width="0.12">600</text>
<line x1="25.40" y1="245.51" x2="27.80" y2="245.51" stroke="#222" stroke-width="0.8"/>
<text x="25.30" y="247.26" font-size="4.9" text-anchor="end" fill="#1a1a1a" font-weight="normal" font-style="normal" stroke="#1a1a1a" stroke-width="0.12">800</text>
<line x1="25.40" y1="232.14" x2="27.80" y2="232.14" stroke="#222" stroke-width="0.8"/>
<text x="25.30" y="233.89" font-size="4.9" text-anchor="end" fill="#1a1a1a" font-weight="normal" font-style="normal" stroke="#1a1a1a" stroke-width="0.12">1,000</text>
<line x1="25.40" y1="218.77" x2="27.80" y2="218.77" stroke="#222" stroke-width="0.8"/>
<text x="25.30" y="220.52" font-size="4.9" text-anchor="end" fill="#1a1a1a" font-weight="normal" font-style="normal" stroke="#1a1a1a" stroke-width="0.12">1,200</text>
<line x1="25.40" y1="205.40" x2="27.80" y2="205.40" stroke="#222" stroke-width="0.8"/>
<text x="25.30" y="207.15" font-size="4.9" text-anchor="end" fill="#1a1a1a" font-weight="normal" font-style="normal" stroke="#1a1a1a" stroke-width="0.12">1,400</text>
<line x1="27.30" y1="299.00" x2="137.00" y2="299.00" stroke="#1e1e1e" stroke-width="1.15"/>
<line x1="28.92" y1="299.00" x2="28.92" y2="300.30" stroke="#333" stroke-width="0.5"/>
<line x1="32.26" y1="299.00" x2="32.26" y2="300.30" stroke="#333" stroke-width="0.5"/>
<line x1="35.60" y1="299.00" x2="35.60" y2="300.30" stroke="#333" stroke-width="0.5"/>
<line x1="38.94" y1="299.00" x2="38.94" y2="300.30" stroke="#333" stroke-width="0.5"/>
<line x1="42.28" y1="299.00" x2="42.28" y2="300.30" stroke="#333" stroke-width="0.5"/>
<line x1="45.62" y1="299.00" x2="45.62" y2="300.30" stroke="#333" stroke-width="0.5"/>
<line x1="48.96" y1="299.00" x2="48.96" y2="300.30" stroke="#333" stroke-width="0.5"/>
<line x1="52.30" y1="299.00" x2="52.30" y2="300.30" stroke="#333" stroke-width="0.5"/>
<line x1="55.64" y1="299.00" x2="55.64" y2="300.30" stroke="#333" stroke-width="0.5"/>
<line x1="58.98" y1="299.00" x2="58.98" y2="300.30" stroke="#333" stroke-width="0.5"/>
<line x1="62.32" y1="299.00" x2="62.32" y2="300.30" stroke="#333" stroke-width="0.5"/>
<line x1="65.66" y1="299.00" x2="65.66" y2="300.30" stroke="#333" stroke-width="0.5"/>
<line x1="69.00" y1="299.00" x2="69.00" y2="300.30" stroke="#333" stroke-width="0.5"/>
<line x1="72.34" y1="299.00" x2="72.34" y2="300.30" stroke="#333" stroke-width="0.5"/>
<line x1="75.68" y1="299.00" x2="75.68" y2="300.30" stroke="#333" stroke-width="0.5"/>
<line x1="79.02" y1="299.00" x2="79.02" y2="300.30" stroke="#333" stroke-width="0.5"/>
<line x1="82.36" y1="299.00" x2="82.36" y2="300.30" stroke="#333" stroke-width="0.5"/>
<line x1="85.70" y1="299.00" x2="85.70" y2="300.30" stroke="#333" stroke-width="0.5"/>
<line x1="89.04" y1="299.00" x2="89.04" y2="300.30" stroke="#333" stroke-width="0.5"/>
<line x1="92.38" y1="299.00" x2="92.38" y2="300.30" stroke="#333" stroke-width="0.5"/>
<line x1="95.72" y1="299.00" x2="95.72" y2="300.30" stroke="#333" stroke-width="0.5"/>
<line x1="99.06" y1="299.00" x2="99.06" y2="300.30" stroke="#333" stroke-width="0.5"/>
<line x1="102.40" y1="299.00" x2="102.40" y2="300.30" stroke="#333" stroke-width="0.5"/>
<line x1="105.74" y1="299.00" x2="105.74" y2="300.30" stroke="#333" stroke-width="0.5"/>
<line x1="109.08" y1="299.00" x2="109.08" y2="300.30" stroke="#333" stroke-width="0.5"/>
<line x1="112.42" y1="299.00" x2="112.42" y2="300.30" stroke="#333" stroke-width="0.5"/>
<line x1="115.76" y1="299.00" x2="115.76" y2="300.30" stroke="#333" stroke-width="0.5"/>
<line x1="119.10" y1="299.00" x2="119.10" y2="300.30" stroke="#333" stroke-width="0.5"/>
<line x1="122.44" y1="299.00" x2="122.44" y2="300.30" stroke="#333" stroke-width="0.5"/>
<line x1="125.78" y1="299.00" x2="125.78" y2="300.30" stroke="#333" stroke-width="0.5"/>
<line x1="129.12" y1="299.00" x2="129.12" y2="300.30" stroke="#333" stroke-width="0.5"/>
<line x1="132.46" y1="299.00" x2="132.46" y2="300.30" stroke="#333" stroke-width="0.5"/>
<line x1="135.80" y1="299.00" x2="135.80" y2="300.30" stroke="#333" stroke-width="0.5"/>
<line x1="35.60" y1="299.00" x2="35.60" y2="301.00" stroke="#222" stroke-width="0.8"/>
<text x="35.60" y="305.60" font-size="4.9" text-anchor="middle" fill="#1a1a1a" font-weight="normal" font-style="normal" stroke="#1a1a1a" stroke-width="0.12">20</text>
<line x1="52.30" y1="299.00" x2="52.30" y2="301.00" stroke="#222" stroke-width="0.8"/>
<text x="52.30" y="305.60" font-size="4.9" text-anchor="middle" fill="#1a1a1a" font-weight="normal" font-style="normal" stroke="#1a1a1a" stroke-width="0.12">30</text>
<line x1="69.00" y1="299.00" x2="69.00" y2="301.00" stroke="#222" stroke-width="0.8"/>
<text x="69.00" y="305.60" font-size="4.9" text-anchor="middle" fill="#1a1a1a" font-weight="normal" font-style="normal" stroke="#1a1a1a" stroke-width="0.12">40</text>
<line x1="85.70" y1="299.00" x2="85.70" y2="301.00" stroke="#222" stroke-width="0.8"/>
<text x="85.70" y="305.60" font-size="4.9" text-anchor="middle" fill="#1a1a1a" font-weight="normal" font-style="normal" stroke="#1a1a1a" stroke-width="0.12">50</text>
<line x1="102.40" y1="299.00" x2="102.40" y2="301.00" stroke="#222" stroke-width="0.8"/>
<text x="102.40" y="305.60" font-size="4.9" text-anchor="middle" fill="#1a1a1a" font-weight="normal" font-style="normal" stroke="#1a1a1a" stroke-width="0.12">60</text>
<line x1="119.10" y1="299.00" x2="119.10" y2="301.00" stroke="#222" stroke-width="0.8"/>
<text x="119.10" y="305.60" font-size="4.9" text-anchor="middle" fill="#1a1a1a" font-weight="normal" font-style="normal" stroke="#1a1a1a" stroke-width="0.12">70</text>
<line x1="135.80" y1="299.00" x2="135.80" y2="301.00" stroke="#222" stroke-width="0.8"/>
<text x="135.80" y="305.60" font-size="4.9" text-anchor="middle" fill="#1a1a1a" font-weight="normal" font-style="normal" stroke="#1a1a1a" stroke-width="0.12">80</text>
<line x1="27.80" y1="288.20" x2="138.70" y2="288.20" stroke="#333" stroke-width="0.6" stroke-dasharray="1.4,1.2"/>
<text transform="translate(6.60,247.00) rotate(-90)" x="0" y="2.27" font-size="6.5" text-anchor="middle" fill="#231f20" stroke="#231f20" stroke-width="0.08" textLength="62.00" lengthAdjust="spacingAndGlyphs">Tumor volume (mm<tspan font-size="4.23" dy="-2.27">3</tspan><tspan dy="2.27">)</tspan></text>
<polygon points="28.90,306.90 27.00,311.00 30.80,311.00" fill="#111"/>
<text x="32.00" y="311.00" font-size="5.2" text-anchor="start" fill="#2a2a2a" font-weight="normal" font-style="normal" textLength="32.40" lengthAdjust="spacingAndGlyphs" stroke="#2a2a2a" stroke-width="0.05">Single dose i.v.</text>
<text x="47.00" y="319.80" font-size="7" text-anchor="start" fill="#231f20" font-weight="normal" font-style="normal" textLength="67.00" lengthAdjust="spacingAndGlyphs" stroke="#231f20" stroke-width="0.18">Days post implantation</text>
<path d="M31.20,288.20 L37.50,281.60 L44.30,276.30 L50.50,274.80 L56.20,273.20 L62.40,270.10 L68.10,266.20 L74.70,262.00 L79.90,258.50 L86.40,249.00 L93.00,241.70 L99.50,226.00" fill="none" stroke="#5e5e5e" stroke-width="1.05" stroke-linejoin="round"/>
<line x1="37.50" y1="280.10" x2="37.50" y2="283.10" stroke="#5e5e5e" stroke-width="0.9"/>
<line x1="36.20" y1="280.10" x2="38.80" y2="280.10" stroke="#5e5e5e" stroke-width="0.8"/>
<line x1="36.20" y1="283.10" x2="38.80" y2="283.10" stroke="#5e5e5e" stroke-width="0.8"/>
<line x1="44.50" y1="274.80" x2="44.50" y2="277.80" stroke="#5e5e5e" stroke-width="0.9"/>
<line x1="43.20" y1="274.80" x2="45.80" y2="274.80" stroke="#5e5e5e" stroke-width="0.8"/>
<line x1="43.20" y1="277.80" x2="45.80" y2="277.80" stroke="#5e5e5e" stroke-width="0.8"/>
<line x1="50.50" y1="272.80" x2="50.50" y2="276.80" stroke="#5e5e5e" stroke-width="0.9"/>
<line x1="49.20" y1="272.80" x2="51.80" y2="272.80" stroke="#5e5e5e" stroke-width="0.8"/>
<line x1="49.20" y1="276.80" x2="51.80" y2="276.80" stroke="#5e5e5e" stroke-width="0.8"/>
<line x1="56.50" y1="271.20" x2="56.50" y2="275.20" stroke="#5e5e5e" stroke-width="0.9"/>
<line x1="55.20" y1="271.20" x2="57.80" y2="271.20" stroke="#5e5e5e" stroke-width="0.8"/>
<line x1="55.20" y1="275.20" x2="57.80" y2="275.20" stroke="#5e5e5e" stroke-width="0.8"/>
<line x1="62.50" y1="268.10" x2="62.50" y2="272.10" stroke="#5e5e5e" stroke-width="0.9"/>
<line x1="61.20" y1="268.10" x2="63.80" y2="268.10" stroke="#5e5e5e" stroke-width="0.8"/>
<line x1="61.20" y1="272.10" x2="63.80" y2="272.10" stroke="#5e5e5e" stroke-width="0.8"/>
<line x1="68.50" y1="263.70" x2="68.50" y2="268.70" stroke="#5e5e5e" stroke-width="0.9"/>
<line x1="67.20" y1="263.70" x2="69.80" y2="263.70" stroke="#5e5e5e" stroke-width="0.8"/>
<line x1="67.20" y1="268.70" x2="69.80" y2="268.70" stroke="#5e5e5e" stroke-width="0.8"/>
<line x1="74.50" y1="259.50" x2="74.50" y2="264.50" stroke="#5e5e5e" stroke-width="0.9"/>
<line x1="73.20" y1="259.50" x2="75.80" y2="259.50" stroke="#5e5e5e" stroke-width="0.8"/>
<line x1="73.20" y1="264.50" x2="75.80" y2="264.50" stroke="#5e5e5e" stroke-width="0.8"/>
<line x1="79.50" y1="255.50" x2="79.50" y2="261.50" stroke="#5e5e5e" stroke-width="0.9"/>
<line x1="78.20" y1="255.50" x2="80.80" y2="255.50" stroke="#5e5e5e" stroke-width="0.8"/>
<line x1="78.20" y1="261.50" x2="80.80" y2="261.50" stroke="#5e5e5e" stroke-width="0.8"/>
<line x1="86.50" y1="246.00" x2="86.50" y2="252.00" stroke="#5e5e5e" stroke-width="0.9"/>
<line x1="85.20" y1="246.00" x2="87.80" y2="246.00" stroke="#5e5e5e" stroke-width="0.8"/>
<line x1="85.20" y1="252.00" x2="87.80" y2="252.00" stroke="#5e5e5e" stroke-width="0.8"/>
<line x1="93.50" y1="238.20" x2="93.50" y2="245.20" stroke="#5e5e5e" stroke-width="0.9"/>
<line x1="92.20" y1="238.20" x2="94.80" y2="238.20" stroke="#5e5e5e" stroke-width="0.8"/>
<line x1="92.20" y1="245.20" x2="94.80" y2="245.20" stroke="#5e5e5e" stroke-width="0.8"/>
<line x1="99.50" y1="219.00" x2="99.50" y2="232.00" stroke="#5e5e5e" stroke-width="0.9"/>
<line x1="98.20" y1="219.00" x2="100.80" y2="219.00" stroke="#5e5e5e" stroke-width="0.8"/>
<line x1="98.20" y1="232.00" x2="100.80" y2="232.00" stroke="#5e5e5e" stroke-width="0.8"/>
<circle cx="31.20" cy="288.20" r="1.00" fill="#5e5e5e"/>
<circle cx="37.50" cy="281.60" r="1.00" fill="#5e5e5e"/>
<circle cx="44.30" cy="276.30" r="1.00" fill="#5e5e5e"/>
<circle cx="50.50" cy="274.80" r="1.00" fill="#5e5e5e"/>
<circle cx="56.20" cy="273.20" r="1.00" fill="#5e5e5e"/>
<circle cx="62.40" cy="270.10" r="1.00" fill="#5e5e5e"/>
<circle cx="68.10" cy="266.20" r="1.00" fill="#5e5e5e"/>
<circle cx="74.70" cy="262.00" r="1.00" fill="#5e5e5e"/>
<circle cx="79.90" cy="258.50" r="1.00" fill="#5e5e5e"/>
<circle cx="86.40" cy="249.00" r="1.00" fill="#5e5e5e"/>
<circle cx="93.00" cy="241.70" r="1.00" fill="#5e5e5e"/>
<circle cx="99.50" cy="226.00" r="1.00" fill="#5e5e5e"/>
<path d="M31.20,288.20 L37.50,283.50 L44.20,282.60 L50.50,285.60 L56.10,287.00 L63.40,285.80 L68.10,283.20 L74.70,280.60 L79.90,276.00 L86.40,273.40 L93.00,268.30 L99.60,258.50 L104.20,249.00" fill="none" stroke="#4c74c4" stroke-width="1.05" stroke-linejoin="round"/>
<line x1="37.50" y1="282.50" x2="37.50" y2="284.50" stroke="#4c74c4" stroke-width="0.9"/>
<line x1="36.20" y1="282.50" x2="38.80" y2="282.50" stroke="#4c74c4" stroke-width="0.8"/>
<line x1="36.20" y1="284.50" x2="38.80" y2="284.50" stroke="#4c74c4" stroke-width="0.8"/>
<line x1="44.50" y1="281.60" x2="44.50" y2="283.60" stroke="#4c74c4" stroke-width="0.9"/>
<line x1="43.20" y1="281.60" x2="45.80" y2="281.60" stroke="#4c74c4" stroke-width="0.8"/>
<line x1="43.20" y1="283.60" x2="45.80" y2="283.60" stroke="#4c74c4" stroke-width="0.8"/>
<line x1="50.50" y1="284.60" x2="50.50" y2="286.60" stroke="#4c74c4" stroke-width="0.9"/>
<line x1="49.20" y1="284.60" x2="51.80" y2="284.60" stroke="#4c74c4" stroke-width="0.8"/>
<line x1="49.20" y1="286.60" x2="51.80" y2="286.60" stroke="#4c74c4" stroke-width="0.8"/>
<line x1="56.50" y1="286.00" x2="56.50" y2="288.00" stroke="#4c74c4" stroke-width="0.9"/>
<line x1="55.20" y1="286.00" x2="57.80" y2="286.00" stroke="#4c74c4" stroke-width="0.8"/>
<line x1="55.20" y1="288.00" x2="57.80" y2="288.00" stroke="#4c74c4" stroke-width="0.8"/>
<line x1="63.50" y1="284.80" x2="63.50" y2="286.80" stroke="#4c74c4" stroke-width="0.9"/>
<line x1="62.20" y1="284.80" x2="64.80" y2="284.80" stroke="#4c74c4" stroke-width="0.8"/>
<line x1="62.20" y1="286.80" x2="64.80" y2="286.80" stroke="#4c74c4" stroke-width="0.8"/>
<line x1="68.50" y1="281.70" x2="68.50" y2="284.70" stroke="#4c74c4" stroke-width="0.9"/>
<line x1="67.20" y1="281.70" x2="69.80" y2="281.70" stroke="#4c74c4" stroke-width="0.8"/>
<line x1="67.20" y1="284.70" x2="69.80" y2="284.70" stroke="#4c74c4" stroke-width="0.8"/>
<line x1="74.50" y1="279.10" x2="74.50" y2="282.10" stroke="#4c74c4" stroke-width="0.9"/>
<line x1="73.20" y1="279.10" x2="75.80" y2="279.10" stroke="#4c74c4" stroke-width="0.8"/>
<line x1="73.20" y1="282.10" x2="75.80" y2="282.10" stroke="#4c74c4" stroke-width="0.8"/>
<line x1="79.50" y1="274.00" x2="79.50" y2="278.00" stroke="#4c74c4" stroke-width="0.9"/>
<line x1="78.20" y1="274.00" x2="80.80" y2="274.00" stroke="#4c74c4" stroke-width="0.8"/>
<line x1="78.20" y1="278.00" x2="80.80" y2="278.00" stroke="#4c74c4" stroke-width="0.8"/>
<line x1="86.50" y1="271.40" x2="86.50" y2="275.40" stroke="#4c74c4" stroke-width="0.9"/>
<line x1="85.20" y1="271.40" x2="87.80" y2="271.40" stroke="#4c74c4" stroke-width="0.8"/>
<line x1="85.20" y1="275.40" x2="87.80" y2="275.40" stroke="#4c74c4" stroke-width="0.8"/>
<line x1="93.50" y1="265.80" x2="93.50" y2="270.80" stroke="#4c74c4" stroke-width="0.9"/>
<line x1="92.20" y1="265.80" x2="94.80" y2="265.80" stroke="#4c74c4" stroke-width="0.8"/>
<line x1="92.20" y1="270.80" x2="94.80" y2="270.80" stroke="#4c74c4" stroke-width="0.8"/>
<line x1="99.50" y1="255.50" x2="99.50" y2="261.50" stroke="#4c74c4" stroke-width="0.9"/>
<line x1="98.20" y1="255.50" x2="100.80" y2="255.50" stroke="#4c74c4" stroke-width="0.8"/>
<line x1="98.20" y1="261.50" x2="100.80" y2="261.50" stroke="#4c74c4" stroke-width="0.8"/>
<line x1="104.50" y1="243.60" x2="104.50" y2="254.50" stroke="#4c74c4" stroke-width="0.9"/>
<line x1="103.20" y1="243.60" x2="105.80" y2="243.60" stroke="#4c74c4" stroke-width="0.8"/>
<line x1="103.20" y1="254.50" x2="105.80" y2="254.50" stroke="#4c74c4" stroke-width="0.8"/>
<polygon points="31.20,286.71 29.71,289.39 32.69,289.39" fill="#4c74c4"/>
<polygon points="37.50,282.01 36.02,284.69 38.98,284.69" fill="#4c74c4"/>
<polygon points="44.20,281.12 42.72,283.79 45.69,283.79" fill="#4c74c4"/>
<polygon points="50.50,284.12 49.02,286.79 51.98,286.79" fill="#4c74c4"/>
<polygon points="56.10,285.51 54.62,288.19 57.59,288.19" fill="#4c74c4"/>
<polygon points="63.40,284.31 61.91,286.99 64.89,286.99" fill="#4c74c4"/>
<polygon points="68.10,281.71 66.61,284.39 69.58,284.39" fill="#4c74c4"/>
<polygon points="74.70,279.12 73.22,281.79 76.19,281.79" fill="#4c74c4"/>
<polygon points="79.90,274.51 78.42,277.19 81.39,277.19" fill="#4c74c4"/>
<polygon points="86.40,271.91 84.92,274.59 87.89,274.59" fill="#4c74c4"/>
<polygon points="93.00,266.81 91.52,269.49 94.48,269.49" fill="#4c74c4"/>
<polygon points="99.60,257.01 98.11,259.69 101.08,259.69" fill="#4c74c4"/>
<polygon points="104.20,247.51 102.72,250.19 105.69,250.19" fill="#4c74c4"/>
<path d="M31.20,288.20 L37.50,288.20 L44.20,290.40 L50.50,293.00 L56.10,293.70 L62.30,294.50 L67.70,294.60 L74.60,295.00 L79.20,295.20 L86.20,294.80 L92.30,295.00 L99.20,295.30 L104.60,294.60 L116.20,294.10 L127.80,293.20" fill="none" stroke="#7e2128" stroke-width="1.05" stroke-linejoin="round"/>
<line x1="127.50" y1="291.60" x2="127.50" y2="294.80" stroke="#7e2128" stroke-width="0.9"/>
<line x1="126.20" y1="291.60" x2="128.80" y2="291.60" stroke="#7e2128" stroke-width="0.8"/>
<line x1="126.20" y1="294.80" x2="128.80" y2="294.80" stroke="#7e2128" stroke-width="0.8"/>
<circle cx="31.20" cy="288.20" r="1.35" fill="#7e2128"/>
<circle cx="37.50" cy="288.20" r="1.35" fill="#7e2128"/>
<circle cx="44.20" cy="290.40" r="1.35" fill="#7e2128"/>
<circle cx="50.50" cy="293.00" r="1.35" fill="#7e2128"/>
<circle cx="56.10" cy="293.70" r="1.35" fill="#7e2128"/>
<circle cx="62.30" cy="294.50" r="1.35" fill="#7e2128"/>
<circle cx="67.70" cy="294.60" r="1.35" fill="#7e2128"/>
<circle cx="74.60" cy="295.00" r="1.35" fill="#7e2128"/>
<circle cx="79.20" cy="295.20" r="1.35" fill="#7e2128"/>
<circle cx="86.20" cy="294.80" r="1.35" fill="#7e2128"/>
<circle cx="92.30" cy="295.00" r="1.35" fill="#7e2128"/>
<circle cx="99.20" cy="295.30" r="1.35" fill="#7e2128"/>
<circle cx="104.60" cy="294.60" r="1.35" fill="#7e2128"/>
<circle cx="116.20" cy="294.10" r="1.35" fill="#7e2128"/>
<circle cx="127.80" cy="293.20" r="1.35" fill="#7e2128"/>
<path d="M31.20,288.20 L37.50,280.40 L44.30,271.00 L50.50,260.70 L56.20,253.60 L62.40,248.30 L67.70,236.80 L74.20,225.50 L79.50,208.70" fill="none" stroke="#111" stroke-width="1.05" stroke-linejoin="round"/>
<line x1="37.50" y1="278.90" x2="37.50" y2="281.90" stroke="#111" stroke-width="0.9"/>
<line x1="36.20" y1="278.90" x2="38.80" y2="278.90" stroke="#111" stroke-width="0.8"/>
<line x1="36.20" y1="281.90" x2="38.80" y2="281.90" stroke="#111" stroke-width="0.8"/>
<line x1="44.50" y1="269.00" x2="44.50" y2="273.00" stroke="#111" stroke-width="0.9"/>
<line x1="43.20" y1="269.00" x2="45.80" y2="269.00" stroke="#111" stroke-width="0.8"/>
<line x1="43.20" y1="273.00" x2="45.80" y2="273.00" stroke="#111" stroke-width="0.8"/>
<line x1="50.50" y1="258.20" x2="50.50" y2="263.20" stroke="#111" stroke-width="0.9"/>
<line x1="49.20" y1="258.20" x2="51.80" y2="258.20" stroke="#111" stroke-width="0.8"/>
<line x1="49.20" y1="263.20" x2="51.80" y2="263.20" stroke="#111" stroke-width="0.8"/>
<line x1="56.50" y1="250.60" x2="56.50" y2="256.60" stroke="#111" stroke-width="0.9"/>
<line x1="55.20" y1="250.60" x2="57.80" y2="250.60" stroke="#111" stroke-width="0.8"/>
<line x1="55.20" y1="256.60" x2="57.80" y2="256.60" stroke="#111" stroke-width="0.8"/>
<line x1="62.50" y1="244.80" x2="62.50" y2="251.80" stroke="#111" stroke-width="0.9"/>
<line x1="61.20" y1="244.80" x2="63.80" y2="244.80" stroke="#111" stroke-width="0.8"/>
<line x1="61.20" y1="251.80" x2="63.80" y2="251.80" stroke="#111" stroke-width="0.8"/>
<line x1="67.50" y1="232.80" x2="67.50" y2="240.80" stroke="#111" stroke-width="0.9"/>
<line x1="66.20" y1="232.80" x2="68.80" y2="232.80" stroke="#111" stroke-width="0.8"/>
<line x1="66.20" y1="240.80" x2="68.80" y2="240.80" stroke="#111" stroke-width="0.8"/>
<line x1="74.50" y1="220.50" x2="74.50" y2="230.50" stroke="#111" stroke-width="0.9"/>
<line x1="73.20" y1="220.50" x2="75.80" y2="220.50" stroke="#111" stroke-width="0.8"/>
<line x1="73.20" y1="230.50" x2="75.80" y2="230.50" stroke="#111" stroke-width="0.8"/>
<line x1="79.50" y1="203.00" x2="79.50" y2="214.00" stroke="#111" stroke-width="0.9"/>
<line x1="78.20" y1="203.00" x2="80.80" y2="203.00" stroke="#111" stroke-width="0.8"/>
<line x1="78.20" y1="214.00" x2="80.80" y2="214.00" stroke="#111" stroke-width="0.8"/>
<circle cx="31.20" cy="288.20" r="1.35" fill="#111"/>
<circle cx="37.50" cy="280.40" r="1.35" fill="#111"/>
<circle cx="44.30" cy="271.00" r="1.35" fill="#111"/>
<circle cx="50.50" cy="260.70" r="1.35" fill="#111"/>
<circle cx="56.20" cy="253.60" r="1.35" fill="#111"/>
<circle cx="62.40" cy="248.30" r="1.35" fill="#111"/>
<circle cx="67.70" cy="236.80" r="1.35" fill="#111"/>
<circle cx="74.20" cy="225.50" r="1.35" fill="#111"/>
<circle cx="79.50" cy="208.70" r="1.35" fill="#111"/>
<line x1="103.00" y1="195.50" x2="109.20" y2="195.50" stroke="#111" stroke-width="1.25"/>
<circle cx="105.50" cy="195.50" r="1.25" fill="#111"/>
<text x="111.00" y="197.53" font-size="5.65" fill="#1a1a1a" stroke="#1a1a1a" stroke-width="0.16">Untreated</text>
<line x1="103.00" y1="202.70" x2="109.20" y2="202.70" stroke="#5e5e5e" stroke-width="1.25"/>
<circle cx="105.50" cy="202.70" r="1.25" fill="#5e5e5e"/>
<text x="111.00" y="204.73" font-size="5.65" fill="#1a1a1a" stroke="#1a1a1a" stroke-width="0.16">Control IgG-PBD 0.3 mg/kg</text>
<line x1="103.00" y1="210.50" x2="109.20" y2="210.50" stroke="#4c74c4" stroke-width="1.25"/>
<polygon points="105.50,209.12 104.12,211.60 106.88,211.60" fill="#4c74c4"/>
<text x="111.00" y="212.53" font-size="5.65" fill="#1a1a1a" stroke="#1a1a1a" stroke-width="0.16">5T4-PBD 0.1 <tspan font-style="italic">mg/kg</tspan></text>
<line x1="103.00" y1="218.00" x2="109.20" y2="218.00" stroke="#7e2128" stroke-width="1.25"/>
<circle cx="105.50" cy="218.00" r="1.25" fill="#7e2128"/>
<text x="111.00" y="220.03" font-size="5.65" fill="#1a1a1a" stroke="#1a1a1a" stroke-width="0.16">5T4-PBD 0.3 <tspan font-style="italic">mg/kg</tspan></text>
<line x1="211.50" y1="199.30" x2="211.50" y2="298.30" stroke="#1e1e1e" stroke-width="1.15"/>
<line x1="209.10" y1="297.80" x2="211.50" y2="297.80" stroke="#222" stroke-width="0.8"/>
<text x="209.00" y="299.55" font-size="4.9" text-anchor="end" fill="#1a1a1a" font-weight="normal" font-style="normal" stroke="#1a1a1a" stroke-width="0.12">0</text>
<line x1="209.10" y1="284.73" x2="211.50" y2="284.73" stroke="#222" stroke-width="0.8"/>
<text x="209.00" y="286.48" font-size="4.9" text-anchor="end" fill="#1a1a1a" font-weight="normal" font-style="normal" stroke="#1a1a1a" stroke-width="0.12">200</text>
<line x1="209.10" y1="271.66" x2="211.50" y2="271.66" stroke="#222" stroke-width="0.8"/>
<text x="209.00" y="273.41" font-size="4.9" text-anchor="end" fill="#1a1a1a" font-weight="normal" font-style="normal" stroke="#1a1a1a" stroke-width="0.12">400</text>
<line x1="209.10" y1="258.59" x2="211.50" y2="258.59" stroke="#222" stroke-width="0.8"/>
<text x="209.00" y="260.34" font-size="4.9" text-anchor="end" fill="#1a1a1a" font-weight="normal" font-style="normal" stroke="#1a1a1a" stroke-width="0.12">600</text>
<line x1="209.10" y1="245.51" x2="211.50" y2="245.51" stroke="#222" stroke-width="0.8"/>
<text x="209.00" y="247.26" font-size="4.9" text-anchor="end" fill="#1a1a1a" font-weight="normal" font-style="normal" stroke="#1a1a1a" stroke-width="0.12">800</text>
<line x1="209.10" y1="232.44" x2="211.50" y2="232.44" stroke="#222" stroke-width="0.8"/>
<text x="209.00" y="234.19" font-size="4.9" text-anchor="end" fill="#1a1a1a" font-weight="normal" font-style="normal" stroke="#1a1a1a" stroke-width="0.12">1,000</text>
<line x1="209.10" y1="219.37" x2="211.50" y2="219.37" stroke="#222" stroke-width="0.8"/>
<text x="209.00" y="221.12" font-size="4.9" text-anchor="end" fill="#1a1a1a" font-weight="normal" font-style="normal" stroke="#1a1a1a" stroke-width="0.12">1,200</text>
<line x1="209.10" y1="206.30" x2="211.50" y2="206.30" stroke="#222" stroke-width="0.8"/>
<text x="209.00" y="208.05" font-size="4.9" text-anchor="end" fill="#1a1a1a" font-weight="normal" font-style="normal" stroke="#1a1a1a" stroke-width="0.12">1,400</text>
<line x1="211.00" y1="297.80" x2="322.00" y2="297.80" stroke="#1e1e1e" stroke-width="1.15"/>
<line x1="211.78" y1="297.80" x2="211.78" y2="299.10" stroke="#333" stroke-width="0.5"/>
<line x1="215.14" y1="297.80" x2="215.14" y2="299.10" stroke="#333" stroke-width="0.5"/>
<line x1="218.50" y1="297.80" x2="218.50" y2="299.10" stroke="#333" stroke-width="0.5"/>
<line x1="221.86" y1="297.80" x2="221.86" y2="299.10" stroke="#333" stroke-width="0.5"/>
<line x1="225.22" y1="297.80" x2="225.22" y2="299.10" stroke="#333" stroke-width="0.5"/>
<line x1="228.58" y1="297.80" x2="228.58" y2="299.10" stroke="#333" stroke-width="0.5"/>
<line x1="231.94" y1="297.80" x2="231.94" y2="299.10" stroke="#333" stroke-width="0.5"/>
<line x1="235.30" y1="297.80" x2="235.30" y2="299.10" stroke="#333" stroke-width="0.5"/>
<line x1="238.66" y1="297.80" x2="238.66" y2="299.10" stroke="#333" stroke-width="0.5"/>
<line x1="242.02" y1="297.80" x2="242.02" y2="299.10" stroke="#333" stroke-width="0.5"/>
<line x1="245.38" y1="297.80" x2="245.38" y2="299.10" stroke="#333" stroke-width="0.5"/>
<line x1="248.74" y1="297.80" x2="248.74" y2="299.10" stroke="#333" stroke-width="0.5"/>
<line x1="252.10" y1="297.80" x2="252.10" y2="299.10" stroke="#333" stroke-width="0.5"/>
<line x1="255.46" y1="297.80" x2="255.46" y2="299.10" stroke="#333" stroke-width="0.5"/>
<line x1="258.82" y1="297.80" x2="258.82" y2="299.10" stroke="#333" stroke-width="0.5"/>
<line x1="262.18" y1="297.80" x2="262.18" y2="299.10" stroke="#333" stroke-width="0.5"/>
<line x1="265.54" y1="297.80" x2="265.54" y2="299.10" stroke="#333" stroke-width="0.5"/>
<line x1="268.90" y1="297.80" x2="268.90" y2="299.10" stroke="#333" stroke-width="0.5"/>
<line x1="272.26" y1="297.80" x2="272.26" y2="299.10" stroke="#333" stroke-width="0.5"/>
<line x1="275.62" y1="297.80" x2="275.62" y2="299.10" stroke="#333" stroke-width="0.5"/>
<line x1="278.98" y1="297.80" x2="278.98" y2="299.10" stroke="#333" stroke-width="0.5"/>
<line x1="282.34" y1="297.80" x2="282.34" y2="299.10" stroke="#333" stroke-width="0.5"/>
<line x1="285.70" y1="297.80" x2="285.70" y2="299.10" stroke="#333" stroke-width="0.5"/>
<line x1="289.06" y1="297.80" x2="289.06" y2="299.10" stroke="#333" stroke-width="0.5"/>
<line x1="292.42" y1="297.80" x2="292.42" y2="299.10" stroke="#333" stroke-width="0.5"/>
<line x1="295.78" y1="297.80" x2="295.78" y2="299.10" stroke="#333" stroke-width="0.5"/>
<line x1="299.14" y1="297.80" x2="299.14" y2="299.10" stroke="#333" stroke-width="0.5"/>
<line x1="302.50" y1="297.80" x2="302.50" y2="299.10" stroke="#333" stroke-width="0.5"/>
<line x1="305.86" y1="297.80" x2="305.86" y2="299.10" stroke="#333" stroke-width="0.5"/>
<line x1="309.22" y1="297.80" x2="309.22" y2="299.10" stroke="#333" stroke-width="0.5"/>
<line x1="312.58" y1="297.80" x2="312.58" y2="299.10" stroke="#333" stroke-width="0.5"/>
<line x1="315.94" y1="297.80" x2="315.94" y2="299.10" stroke="#333" stroke-width="0.5"/>
<line x1="319.30" y1="297.80" x2="319.30" y2="299.10" stroke="#333" stroke-width="0.5"/>
<line x1="218.50" y1="297.80" x2="218.50" y2="299.80" stroke="#222" stroke-width="0.8"/>
<text x="218.50" y="304.65" font-size="4.9" text-anchor="middle" fill="#1a1a1a" font-weight="normal" font-style="normal" stroke="#1a1a1a" stroke-width="0.12">20</text>
<line x1="235.30" y1="297.80" x2="235.30" y2="299.80" stroke="#222" stroke-width="0.8"/>
<text x="235.30" y="304.65" font-size="4.9" text-anchor="middle" fill="#1a1a1a" font-weight="normal" font-style="normal" stroke="#1a1a1a" stroke-width="0.12">30</text>
<line x1="252.10" y1="297.80" x2="252.10" y2="299.80" stroke="#222" stroke-width="0.8"/>
<text x="252.10" y="304.65" font-size="4.9" text-anchor="middle" fill="#1a1a1a" font-weight="normal" font-style="normal" stroke="#1a1a1a" stroke-width="0.12">40</text>
<line x1="268.90" y1="297.80" x2="268.90" y2="299.80" stroke="#222" stroke-width="0.8"/>
<text x="268.90" y="304.65" font-size="4.9" text-anchor="middle" fill="#1a1a1a" font-weight="normal" font-style="normal" stroke="#1a1a1a" stroke-width="0.12">50</text>
<line x1="285.70" y1="297.80" x2="285.70" y2="299.80" stroke="#222" stroke-width="0.8"/>
<text x="285.70" y="304.65" font-size="4.9" text-anchor="middle" fill="#1a1a1a" font-weight="normal" font-style="normal" stroke="#1a1a1a" stroke-width="0.12">60</text>
<line x1="302.50" y1="297.80" x2="302.50" y2="299.80" stroke="#222" stroke-width="0.8"/>
<text x="302.50" y="304.65" font-size="4.9" text-anchor="middle" fill="#1a1a1a" font-weight="normal" font-style="normal" stroke="#1a1a1a" stroke-width="0.12">70</text>
<line x1="319.30" y1="297.80" x2="319.30" y2="299.80" stroke="#222" stroke-width="0.8"/>
<text x="319.30" y="304.65" font-size="4.9" text-anchor="middle" fill="#1a1a1a" font-weight="normal" font-style="normal" stroke="#1a1a1a" stroke-width="0.12">80</text>
<line x1="211.50" y1="285.20" x2="322.00" y2="285.20" stroke="#333" stroke-width="0.6" stroke-dasharray="1.4,1.2"/>
<text transform="translate(189.00,248.20) rotate(-90)" x="0" y="2.45" font-size="7.0" text-anchor="middle" fill="#231f20" stroke="#231f20" stroke-width="0.08" textLength="64.80" lengthAdjust="spacingAndGlyphs">Tumor volume (mm<tspan font-size="4.55" dy="-2.45">3</tspan><tspan dy="2.45">)</tspan></text>
<polygon points="211.30,305.40 209.40,309.50 213.20,309.50" fill="#111"/>
<text x="214.40" y="309.50" font-size="5.2" text-anchor="start" fill="#2a2a2a" font-weight="normal" font-style="normal" textLength="33.60" lengthAdjust="spacingAndGlyphs" stroke="#2a2a2a" stroke-width="0.05">Single dose i.v.</text>
<text x="232.00" y="318.00" font-size="7" text-anchor="start" fill="#231f20" font-weight="normal" font-style="normal" textLength="67.20" lengthAdjust="spacingAndGlyphs" stroke="#231f20" stroke-width="0.18">Days post implantation</text>
<path d="M218.20,285.00 L223.70,281.70 L230.30,276.80 L236.80,277.40 L242.70,278.40 L249.30,275.10 L257.70,273.40 L267.50,269.70 L277.80,268.00 L289.30,260.30 L300.80,253.70 L312.80,243.50" fill="none" stroke="#5e5e5e" stroke-width="1.05" stroke-linejoin="round"/>
<line x1="223.50" y1="280.20" x2="223.50" y2="283.20" stroke="#5e5e5e" stroke-width="0.9"/>
<line x1="222.20" y1="280.20" x2="224.80" y2="280.20" stroke="#5e5e5e" stroke-width="0.8"/>
<line x1="222.20" y1="283.20" x2="224.80" y2="283.20" stroke="#5e5e5e" stroke-width="0.8"/>
<line x1="230.50" y1="274.80" x2="230.50" y2="278.80" stroke="#5e5e5e" stroke-width="0.9"/>
<line x1="229.20" y1="274.80" x2="231.80" y2="274.80" stroke="#5e5e5e" stroke-width="0.8"/>
<line x1="229.20" y1="278.80" x2="231.80" y2="278.80" stroke="#5e5e5e" stroke-width="0.8"/>
<line x1="236.50" y1="274.90" x2="236.50" y2="279.90" stroke="#5e5e5e" stroke-width="0.9"/>
<line x1="235.20" y1="274.90" x2="237.80" y2="274.90" stroke="#5e5e5e" stroke-width="0.8"/>
<line x1="235.20" y1="279.90" x2="237.80" y2="279.90" stroke="#5e5e5e" stroke-width="0.8"/>
<line x1="242.50" y1="275.40" x2="242.50" y2="281.40" stroke="#5e5e5e" stroke-width="0.9"/>
<line x1="241.20" y1="275.40" x2="243.80" y2="275.40" stroke="#5e5e5e" stroke-width="0.8"/>
<line x1="241.20" y1="281.40" x2="243.80" y2="281.40" stroke="#5e5e5e" stroke-width="0.8"/>
<line x1="249.50" y1="271.10" x2="249.50" y2="279.10" stroke="#5e5e5e" stroke-width="0.9"/>
<line x1="248.20" y1="271.10" x2="250.80" y2="271.10" stroke="#5e5e5e" stroke-width="0.8"/>
<line x1="248.20" y1="279.10" x2="250.80" y2="279.10" stroke="#5e5e5e" stroke-width="0.8"/>
<line x1="257.50" y1="267.40" x2="257.50" y2="279.40" stroke="#5e5e5e" stroke-width="0.9"/>
<line x1="256.20" y1="267.40" x2="258.80" y2="267.40" stroke="#5e5e5e" stroke-width="0.8"/>
<line x1="256.20" y1="279.40" x2="258.80" y2="279.40" stroke="#5e5e5e" stroke-width="0.8"/>
<line x1="267.50" y1="262.00" x2="267.50" y2="277.40" stroke="#5e5e5e" stroke-width="0.9"/>
<line x1="266.20" y1="262.00" x2="268.80" y2="262.00" stroke="#5e5e5e" stroke-width="0.8"/>
<line x1="266.20" y1="277.40" x2="268.80" y2="277.40" stroke="#5e5e5e" stroke-width="0.8"/>
<line x1="277.50" y1="260.30" x2="277.50" y2="275.70" stroke="#5e5e5e" stroke-width="0.9"/>
<line x1="276.20" y1="260.30" x2="278.80" y2="260.30" stroke="#5e5e5e" stroke-width="0.8"/>
<line x1="276.20" y1="275.70" x2="278.80" y2="275.70" stroke="#5e5e5e" stroke-width="0.8"/>
<line x1="289.50" y1="250.00" x2="289.50" y2="270.90" stroke="#5e5e5e" stroke-width="0.9"/>
<line x1="288.20" y1="250.00" x2="290.80" y2="250.00" stroke="#5e5e5e" stroke-width="0.8"/>
<line x1="288.20" y1="270.90" x2="290.80" y2="270.90" stroke="#5e5e5e" stroke-width="0.8"/>
<line x1="300.50" y1="241.40" x2="300.50" y2="265.20" stroke="#5e5e5e" stroke-width="0.9"/>
<line x1="299.20" y1="241.40" x2="301.80" y2="241.40" stroke="#5e5e5e" stroke-width="0.8"/>
<line x1="299.20" y1="265.20" x2="301.80" y2="265.20" stroke="#5e5e5e" stroke-width="0.8"/>
<line x1="312.50" y1="229.00" x2="312.50" y2="258.00" stroke="#5e5e5e" stroke-width="0.9"/>
<line x1="311.20" y1="229.00" x2="313.80" y2="229.00" stroke="#5e5e5e" stroke-width="0.8"/>
<line x1="311.20" y1="258.00" x2="313.80" y2="258.00" stroke="#5e5e5e" stroke-width="0.8"/>
<circle cx="218.20" cy="285.00" r="1.00" fill="#5e5e5e"/>
<circle cx="223.70" cy="281.70" r="1.00" fill="#5e5e5e"/>
<circle cx="230.30" cy="276.80" r="1.00" fill="#5e5e5e"/>
<circle cx="236.80" cy="277.40" r="1.00" fill="#5e5e5e"/>
<circle cx="242.70" cy="278.40" r="1.00" fill="#5e5e5e"/>
<circle cx="249.30" cy="275.10" r="1.00" fill="#5e5e5e"/>
<circle cx="257.70" cy="273.40" r="1.00" fill="#5e5e5e"/>
<circle cx="267.50" cy="269.70" r="1.00" fill="#5e5e5e"/>
<circle cx="277.80" cy="268.00" r="1.00" fill="#5e5e5e"/>
<circle cx="289.30" cy="260.30" r="1.00" fill="#5e5e5e"/>
<circle cx="300.80" cy="253.70" r="1.00" fill="#5e5e5e"/>
<circle cx="312.80" cy="243.50" r="1.00" fill="#5e5e5e"/>
<path d="M218.20,285.00 L223.70,281.70 L230.30,281.70 L236.80,288.20 L242.70,290.50 L249.30,291.50 L257.40,292.20 L267.20,292.50 L277.10,292.50 L288.50,292.50 L300.00,290.50 L312.10,288.20" fill="none" stroke="#4c74c4" stroke-width="1.05" stroke-linejoin="round"/>
<line x1="223.50" y1="280.70" x2="223.50" y2="282.70" stroke="#4c74c4" stroke-width="0.9"/>
<line x1="222.20" y1="280.70" x2="224.80" y2="280.70" stroke="#4c74c4" stroke-width="0.8"/>
<line x1="222.20" y1="282.70" x2="224.80" y2="282.70" stroke="#4c74c4" stroke-width="0.8"/>
<line x1="230.50" y1="280.70" x2="230.50" y2="282.70" stroke="#4c74c4" stroke-width="0.9"/>
<line x1="229.20" y1="280.70" x2="231.80" y2="280.70" stroke="#4c74c4" stroke-width="0.8"/>
<line x1="229.20" y1="282.70" x2="231.80" y2="282.70" stroke="#4c74c4" stroke-width="0.8"/>
<line x1="236.50" y1="287.20" x2="236.50" y2="289.20" stroke="#4c74c4" stroke-width="0.9"/>
<line x1="235.20" y1="287.20" x2="237.80" y2="287.20" stroke="#4c74c4" stroke-width="0.8"/>
<line x1="235.20" y1="289.20" x2="237.80" y2="289.20" stroke="#4c74c4" stroke-width="0.8"/>
<line x1="242.50" y1="289.50" x2="242.50" y2="291.50" stroke="#4c74c4" stroke-width="0.9"/>
<line x1="241.20" y1="289.50" x2="243.80" y2="289.50" stroke="#4c74c4" stroke-width="0.8"/>
<line x1="241.20" y1="291.50" x2="243.80" y2="291.50" stroke="#4c74c4" stroke-width="0.8"/>
<line x1="249.50" y1="290.50" x2="249.50" y2="292.50" stroke="#4c74c4" stroke-width="0.9"/>
<line x1="248.20" y1="290.50" x2="250.80" y2="290.50" stroke="#4c74c4" stroke-width="0.8"/>
<line x1="248.20" y1="292.50" x2="250.80" y2="292.50" stroke="#4c74c4" stroke-width="0.8"/>
<line x1="257.50" y1="291.20" x2="257.50" y2="293.20" stroke="#4c74c4" stroke-width="0.9"/>
<line x1="256.20" y1="291.20" x2="258.80" y2="291.20" stroke="#4c74c4" stroke-width="0.8"/>
<line x1="256.20" y1="293.20" x2="258.80" y2="293.20" stroke="#4c74c4" stroke-width="0.8"/>
<line x1="267.50" y1="291.50" x2="267.50" y2="293.50" stroke="#4c74c4" stroke-width="0.9"/>
<line x1="266.20" y1="291.50" x2="268.80" y2="291.50" stroke="#4c74c4" stroke-width="0.8"/>
<line x1="266.20" y1="293.50" x2="268.80" y2="293.50" stroke="#4c74c4" stroke-width="0.8"/>
<line x1="277.50" y1="291.50" x2="277.50" y2="293.50" stroke="#4c74c4" stroke-width="0.9"/>
<line x1="276.20" y1="291.50" x2="278.80" y2="291.50" stroke="#4c74c4" stroke-width="0.8"/>
<line x1="276.20" y1="293.50" x2="278.80" y2="293.50" stroke="#4c74c4" stroke-width="0.8"/>
<line x1="288.50" y1="291.50" x2="288.50" y2="293.50" stroke="#4c74c4" stroke-width="0.9"/>
<line x1="287.20" y1="291.50" x2="289.80" y2="291.50" stroke="#4c74c4" stroke-width="0.8"/>
<line x1="287.20" y1="293.50" x2="289.80" y2="293.50" stroke="#4c74c4" stroke-width="0.8"/>
<line x1="300.50" y1="288.00" x2="300.50" y2="293.00" stroke="#4c74c4" stroke-width="0.9"/>
<line x1="299.20" y1="288.00" x2="301.80" y2="288.00" stroke="#4c74c4" stroke-width="0.8"/>
<line x1="299.20" y1="293.00" x2="301.80" y2="293.00" stroke="#4c74c4" stroke-width="0.8"/>
<line x1="312.50" y1="285.20" x2="312.50" y2="291.20" stroke="#4c74c4" stroke-width="0.9"/>
<line x1="311.20" y1="285.20" x2="313.80" y2="285.20" stroke="#4c74c4" stroke-width="0.8"/>
<line x1="311.20" y1="291.20" x2="313.80" y2="291.20" stroke="#4c74c4" stroke-width="0.8"/>
<polygon points="218.20,283.51 216.71,286.19 219.69,286.19" fill="#4c74c4"/>
<polygon points="223.70,280.21 222.21,282.89 225.19,282.89" fill="#4c74c4"/>
<polygon points="230.30,280.21 228.81,282.89 231.79,282.89" fill="#4c74c4"/>
<polygon points="236.80,286.71 235.31,289.39 238.29,289.39" fill="#4c74c4"/>
<polygon points="242.70,289.01 241.21,291.69 244.19,291.69" fill="#4c74c4"/>
<polygon points="249.30,290.01 247.81,292.69 250.79,292.69" fill="#4c74c4"/>
<polygon points="257.40,290.71 255.91,293.39 258.88,293.39" fill="#4c74c4"/>
<polygon points="267.20,291.01 265.71,293.69 268.69,293.69" fill="#4c74c4"/>
<polygon points="277.10,291.01 275.62,293.69 278.59,293.69" fill="#4c74c4"/>
<polygon points="288.50,291.01 287.01,293.69 289.99,293.69" fill="#4c74c4"/>
<polygon points="300.00,289.01 298.51,291.69 301.49,291.69" fill="#4c74c4"/>
<polygon points="312.10,286.71 310.62,289.39 313.59,289.39" fill="#4c74c4"/>
<path d="M218.20,285.00 L223.70,283.30 L230.30,288.20 L236.80,292.20 L242.70,293.10 L249.30,294.10 L257.40,295.40 L267.20,295.80 L277.10,295.80 L288.50,296.40 L300.00,296.40 L312.10,296.40" fill="none" stroke="#7e2128" stroke-width="1.05" stroke-linejoin="round"/>
<circle cx="218.20" cy="285.00" r="1.35" fill="#7e2128"/>
<circle cx="223.70" cy="283.30" r="1.35" fill="#7e2128"/>
<circle cx="230.30" cy="288.20" r="1.35" fill="#7e2128"/>
<circle cx="236.80" cy="292.20" r="1.35" fill="#7e2128"/>
<circle cx="242.70" cy="293.10" r="1.35" fill="#7e2128"/>
<circle cx="249.30" cy="294.10" r="1.35" fill="#7e2128"/>
<circle cx="257.40" cy="295.40" r="1.35" fill="#7e2128"/>
<circle cx="267.20" cy="295.80" r="1.35" fill="#7e2128"/>
<circle cx="277.10" cy="295.80" r="1.35" fill="#7e2128"/>
<circle cx="288.50" cy="296.40" r="1.35" fill="#7e2128"/>
<circle cx="300.00" cy="296.40" r="1.35" fill="#7e2128"/>
<circle cx="312.10" cy="296.40" r="1.35" fill="#7e2128"/>
<path d="M218.20,285.00 L223.70,281.70 L230.30,273.50 L236.80,263.70 L242.70,257.20 L249.30,251.30 L257.40,245.70 L267.20,229.30 L277.10,213.00" fill="none" stroke="#111" stroke-width="1.05" stroke-linejoin="round"/>
<line x1="223.50" y1="280.20" x2="223.50" y2="283.20" stroke="#111" stroke-width="0.9"/>
<line x1="222.20" y1="280.20" x2="224.80" y2="280.20" stroke="#111" stroke-width="0.8"/>
<line x1="222.20" y1="283.20" x2="224.80" y2="283.20" stroke="#111" stroke-width="0.8"/>
<line x1="230.50" y1="271.50" x2="230.50" y2="275.50" stroke="#111" stroke-width="0.9"/>
<line x1="229.20" y1="271.50" x2="231.80" y2="271.50" stroke="#111" stroke-width="0.8"/>
<line x1="229.20" y1="275.50" x2="231.80" y2="275.50" stroke="#111" stroke-width="0.8"/>
<line x1="236.50" y1="261.70" x2="236.50" y2="265.70" stroke="#111" stroke-width="0.9"/>
<line x1="235.20" y1="261.70" x2="237.80" y2="261.70" stroke="#111" stroke-width="0.8"/>
<line x1="235.20" y1="265.70" x2="237.80" y2="265.70" stroke="#111" stroke-width="0.8"/>
<line x1="242.50" y1="254.70" x2="242.50" y2="259.70" stroke="#111" stroke-width="0.9"/>
<line x1="241.20" y1="254.70" x2="243.80" y2="254.70" stroke="#111" stroke-width="0.8"/>
<line x1="241.20" y1="259.70" x2="243.80" y2="259.70" stroke="#111" stroke-width="0.8"/>
<line x1="249.50" y1="248.30" x2="249.50" y2="254.30" stroke="#111" stroke-width="0.9"/>
<line x1="248.20" y1="248.30" x2="250.80" y2="248.30" stroke="#111" stroke-width="0.8"/>
<line x1="248.20" y1="254.30" x2="250.80" y2="254.30" stroke="#111" stroke-width="0.8"/>
<line x1="257.50" y1="242.20" x2="257.50" y2="249.20" stroke="#111" stroke-width="0.9"/>
<line x1="256.20" y1="242.20" x2="258.80" y2="242.20" stroke="#111" stroke-width="0.8"/>
<line x1="256.20" y1="249.20" x2="258.80" y2="249.20" stroke="#111" stroke-width="0.8"/>
<line x1="267.50" y1="225.30" x2="267.50" y2="233.30" stroke="#111" stroke-width="0.9"/>
<line x1="266.20" y1="225.30" x2="268.80" y2="225.30" stroke="#111" stroke-width="0.8"/>
<line x1="266.20" y1="233.30" x2="268.80" y2="233.30" stroke="#111" stroke-width="0.8"/>
<line x1="277.50" y1="208.00" x2="277.50" y2="218.00" stroke="#111" stroke-width="0.9"/>
<line x1="276.20" y1="208.00" x2="278.80" y2="208.00" stroke="#111" stroke-width="0.8"/>
<line x1="276.20" y1="218.00" x2="278.80" y2="218.00" stroke="#111" stroke-width="0.8"/>
<circle cx="218.20" cy="285.00" r="1.35" fill="#111"/>
<circle cx="223.70" cy="281.70" r="1.35" fill="#111"/>
<circle cx="230.30" cy="273.50" r="1.35" fill="#111"/>
<circle cx="236.80" cy="263.70" r="1.35" fill="#111"/>
<circle cx="242.70" cy="257.20" r="1.35" fill="#111"/>
<circle cx="249.30" cy="251.30" r="1.35" fill="#111"/>
<circle cx="257.40" cy="245.70" r="1.35" fill="#111"/>
<circle cx="267.20" cy="229.30" r="1.35" fill="#111"/>
<circle cx="277.10" cy="213.00" r="1.35" fill="#111"/>
<line x1="282.10" y1="196.60" x2="289.80" y2="196.60" stroke="#111" stroke-width="1.25"/>
<circle cx="285.35" cy="196.60" r="1.25" fill="#111"/>
<text x="291.80" y="198.62" font-size="5.62" fill="#1a1a1a" stroke="#1a1a1a" stroke-width="0.16">Untreated</text>
<line x1="282.10" y1="204.10" x2="289.80" y2="204.10" stroke="#5e5e5e" stroke-width="1.25"/>
<circle cx="285.35" cy="204.10" r="1.25" fill="#5e5e5e"/>
<text x="291.80" y="206.12" font-size="5.62" fill="#1a1a1a" stroke="#1a1a1a" stroke-width="0.16">Control IgG-PBD 0.3 mg/kg</text>
<line x1="282.10" y1="212.40" x2="289.80" y2="212.40" stroke="#4c74c4" stroke-width="1.25"/>
<polygon points="285.35,211.03 283.98,213.50 286.73,213.50" fill="#4c74c4"/>
<text x="291.80" y="214.42" font-size="5.62" fill="#1a1a1a" stroke="#1a1a1a" stroke-width="0.16">5T4-PBD 0.1 mg/kg</text>
<line x1="282.10" y1="219.80" x2="289.80" y2="219.80" stroke="#7e2128" stroke-width="1.25"/>
<circle cx="285.35" cy="219.80" r="1.25" fill="#7e2128"/>
<text x="291.80" y="221.82" font-size="5.62" fill="#1a1a1a" stroke="#1a1a1a" stroke-width="0.16">5T4-PBD 0.3 mg/kg</text>
<line x1="404.10" y1="202.00" x2="404.10" y2="298.90" stroke="#1e1e1e" stroke-width="1.15"/>
<line x1="401.70" y1="298.40" x2="404.10" y2="298.40" stroke="#222" stroke-width="0.8"/>
<text x="401.60" y="300.15" font-size="4.9" text-anchor="end" fill="#1a1a1a" font-weight="normal" font-style="normal" stroke="#1a1a1a" stroke-width="0.12">0</text>
<line x1="401.70" y1="286.39" x2="404.10" y2="286.39" stroke="#222" stroke-width="0.8"/>
<text x="401.60" y="288.14" font-size="4.9" text-anchor="end" fill="#1a1a1a" font-weight="normal" font-style="normal" stroke="#1a1a1a" stroke-width="0.12">200</text>
<line x1="401.70" y1="274.38" x2="404.10" y2="274.38" stroke="#222" stroke-width="0.8"/>
<text x="401.60" y="276.12" font-size="4.9" text-anchor="end" fill="#1a1a1a" font-weight="normal" font-style="normal" stroke="#1a1a1a" stroke-width="0.12">400</text>
<line x1="401.70" y1="262.36" x2="404.10" y2="262.36" stroke="#222" stroke-width="0.8"/>
<text x="401.60" y="264.11" font-size="4.9" text-anchor="end" fill="#1a1a1a" font-weight="normal" font-style="normal" stroke="#1a1a1a" stroke-width="0.12">600</text>
<line x1="401.70" y1="250.35" x2="404.10" y2="250.35" stroke="#222" stroke-width="0.8"/>
<text x="401.60" y="252.10" font-size="4.9" text-anchor="end" fill="#1a1a1a" font-weight="normal" font-style="normal" stroke="#1a1a1a" stroke-width="0.12">800</text>
<line x1="401.70" y1="238.34" x2="404.10" y2="238.34" stroke="#222" stroke-width="0.8"/>
<text x="401.60" y="240.09" font-size="4.9" text-anchor="end" fill="#1a1a1a" font-weight="normal" font-style="normal" stroke="#1a1a1a" stroke-width="0.12">1,000</text>
<line x1="401.70" y1="226.32" x2="404.10" y2="226.32" stroke="#222" stroke-width="0.8"/>
<text x="401.60" y="228.07" font-size="4.9" text-anchor="end" fill="#1a1a1a" font-weight="normal" font-style="normal" stroke="#1a1a1a" stroke-width="0.12">1,200</text>
<line x1="401.70" y1="214.31" x2="404.10" y2="214.31" stroke="#222" stroke-width="0.8"/>
<text x="401.60" y="216.06" font-size="4.9" text-anchor="end" fill="#1a1a1a" font-weight="normal" font-style="normal" stroke="#1a1a1a" stroke-width="0.12">1,400</text>
<line x1="401.70" y1="202.30" x2="404.10" y2="202.30" stroke="#222" stroke-width="0.8"/>
<text x="401.60" y="204.05" font-size="4.9" text-anchor="end" fill="#1a1a1a" font-weight="normal" font-style="normal" stroke="#1a1a1a" stroke-width="0.12">1,600</text>
<line x1="403.60" y1="298.40" x2="509.00" y2="298.40" stroke="#1e1e1e" stroke-width="1.15"/>
<line x1="405.55" y1="298.40" x2="405.55" y2="299.70" stroke="#333" stroke-width="0.5"/>
<line x1="408.58" y1="298.40" x2="408.58" y2="299.70" stroke="#333" stroke-width="0.5"/>
<line x1="411.60" y1="298.40" x2="411.60" y2="299.70" stroke="#333" stroke-width="0.5"/>
<line x1="414.62" y1="298.40" x2="414.62" y2="299.70" stroke="#333" stroke-width="0.5"/>
<line x1="417.65" y1="298.40" x2="417.65" y2="299.70" stroke="#333" stroke-width="0.5"/>
<line x1="420.67" y1="298.40" x2="420.67" y2="299.70" stroke="#333" stroke-width="0.5"/>
<line x1="423.70" y1="298.40" x2="423.70" y2="299.70" stroke="#333" stroke-width="0.5"/>
<line x1="426.72" y1="298.40" x2="426.72" y2="299.70" stroke="#333" stroke-width="0.5"/>
<line x1="429.74" y1="298.40" x2="429.74" y2="299.70" stroke="#333" stroke-width="0.5"/>
<line x1="432.77" y1="298.40" x2="432.77" y2="299.70" stroke="#333" stroke-width="0.5"/>
<line x1="435.79" y1="298.40" x2="435.79" y2="299.70" stroke="#333" stroke-width="0.5"/>
<line x1="438.82" y1="298.40" x2="438.82" y2="299.70" stroke="#333" stroke-width="0.5"/>
<line x1="441.84" y1="298.40" x2="441.84" y2="299.70" stroke="#333" stroke-width="0.5"/>
<line x1="444.86" y1="298.40" x2="444.86" y2="299.70" stroke="#333" stroke-width="0.5"/>
<line x1="447.89" y1="298.40" x2="447.89" y2="299.70" stroke="#333" stroke-width="0.5"/>
<line x1="450.91" y1="298.40" x2="450.91" y2="299.70" stroke="#333" stroke-width="0.5"/>
<line x1="453.94" y1="298.40" x2="453.94" y2="299.70" stroke="#333" stroke-width="0.5"/>
<line x1="456.96" y1="298.40" x2="456.96" y2="299.70" stroke="#333" stroke-width="0.5"/>
<line x1="459.98" y1="298.40" x2="459.98" y2="299.70" stroke="#333" stroke-width="0.5"/>
<line x1="463.01" y1="298.40" x2="463.01" y2="299.70" stroke="#333" stroke-width="0.5"/>
<line x1="466.03" y1="298.40" x2="466.03" y2="299.70" stroke="#333" stroke-width="0.5"/>
<line x1="469.06" y1="298.40" x2="469.06" y2="299.70" stroke="#333" stroke-width="0.5"/>
<line x1="472.08" y1="298.40" x2="472.08" y2="299.70" stroke="#333" stroke-width="0.5"/>
<line x1="475.10" y1="298.40" x2="475.10" y2="299.70" stroke="#333" stroke-width="0.5"/>
<line x1="478.13" y1="298.40" x2="478.13" y2="299.70" stroke="#333" stroke-width="0.5"/>
<line x1="481.15" y1="298.40" x2="481.15" y2="299.70" stroke="#333" stroke-width="0.5"/>
<line x1="484.18" y1="298.40" x2="484.18" y2="299.70" stroke="#333" stroke-width="0.5"/>
<line x1="487.20" y1="298.40" x2="487.20" y2="299.70" stroke="#333" stroke-width="0.5"/>
<line x1="490.22" y1="298.40" x2="490.22" y2="299.70" stroke="#333" stroke-width="0.5"/>
<line x1="493.25" y1="298.40" x2="493.25" y2="299.70" stroke="#333" stroke-width="0.5"/>
<line x1="496.27" y1="298.40" x2="496.27" y2="299.70" stroke="#333" stroke-width="0.5"/>
<line x1="499.30" y1="298.40" x2="499.30" y2="299.70" stroke="#333" stroke-width="0.5"/>
<line x1="502.32" y1="298.40" x2="502.32" y2="299.70" stroke="#333" stroke-width="0.5"/>
<line x1="411.60" y1="298.40" x2="411.60" y2="300.40" stroke="#222" stroke-width="0.8"/>
<text x="411.60" y="305.60" font-size="4.9" text-anchor="middle" fill="#1a1a1a" font-weight="normal" font-style="normal" stroke="#1a1a1a" stroke-width="0.12">10</text>
<line x1="426.72" y1="298.40" x2="426.72" y2="300.40" stroke="#222" stroke-width="0.8"/>
<text x="426.72" y="305.60" font-size="4.9" text-anchor="middle" fill="#1a1a1a" font-weight="normal" font-style="normal" stroke="#1a1a1a" stroke-width="0.12">20</text>
<line x1="441.84" y1="298.40" x2="441.84" y2="300.40" stroke="#222" stroke-width="0.8"/>
<text x="441.84" y="305.60" font-size="4.9" text-anchor="middle" fill="#1a1a1a" font-weight="normal" font-style="normal" stroke="#1a1a1a" stroke-width="0.12">30</text>
<line x1="456.96" y1="298.40" x2="456.96" y2="300.40" stroke="#222" stroke-width="0.8"/>
<text x="456.96" y="305.60" font-size="4.9" text-anchor="middle" fill="#1a1a1a" font-weight="normal" font-style="normal" stroke="#1a1a1a" stroke-width="0.12">40</text>
<line x1="472.08" y1="298.40" x2="472.08" y2="300.40" stroke="#222" stroke-width="0.8"/>
<text x="472.08" y="305.60" font-size="4.9" text-anchor="middle" fill="#1a1a1a" font-weight="normal" font-style="normal" stroke="#1a1a1a" stroke-width="0.12">50</text>
<line x1="487.20" y1="298.40" x2="487.20" y2="300.40" stroke="#222" stroke-width="0.8"/>
<text x="487.20" y="305.60" font-size="4.9" text-anchor="middle" fill="#1a1a1a" font-weight="normal" font-style="normal" stroke="#1a1a1a" stroke-width="0.12">60</text>
<line x1="502.32" y1="298.40" x2="502.32" y2="300.40" stroke="#222" stroke-width="0.8"/>
<text x="502.32" y="305.60" font-size="4.9" text-anchor="middle" fill="#1a1a1a" font-weight="normal" font-style="normal" stroke="#1a1a1a" stroke-width="0.12">70</text>
<line x1="404.10" y1="286.90" x2="510.00" y2="286.90" stroke="#333" stroke-width="0.6" stroke-dasharray="1.4,1.2"/>
<text transform="translate(384.40,246.50) rotate(-90)" x="0" y="2.42" font-size="6.9" text-anchor="middle" fill="#231f20" stroke="#231f20" stroke-width="0.08" textLength="63.80" lengthAdjust="spacingAndGlyphs">Tumor volume (mm<tspan font-size="4.49" dy="-2.42">3</tspan><tspan dy="2.42">)</tspan></text>
<polygon points="408.30,306.50 406.40,310.60 410.20,310.60" fill="#111"/>
<text x="411.40" y="310.60" font-size="5.2" text-anchor="start" fill="#2a2a2a" font-weight="normal" font-style="normal" textLength="32.10" lengthAdjust="spacingAndGlyphs" stroke="#2a2a2a" stroke-width="0.05">Single dose i.v.</text>
<text x="422.20" y="319.20" font-size="7" text-anchor="start" fill="#231f20" font-weight="normal" font-style="normal" textLength="67.00" lengthAdjust="spacingAndGlyphs" stroke="#231f20" stroke-width="0.18">Days post implantation</text>
<path d="M411.20,288.00 L416.90,288.30 L421.40,290.20 L426.40,291.60 L431.70,292.50 L437.60,292.10 L442.10,291.40 L447.60,290.20 L452.90,288.80 L458.40,286.30 L462.80,283.80 L465.60,281.70 L470.50,278.50 L480.30,272.90 L490.80,262.10 L503.20,250.60" fill="none" stroke="#5e5e5e" stroke-width="1.05" stroke-linejoin="round"/>
<line x1="416.50" y1="287.30" x2="416.50" y2="289.30" stroke="#5e5e5e" stroke-width="0.9"/>
<line x1="415.20" y1="287.30" x2="417.80" y2="287.30" stroke="#5e5e5e" stroke-width="0.8"/>
<line x1="415.20" y1="289.30" x2="417.80" y2="289.30" stroke="#5e5e5e" stroke-width="0.8"/>
<line x1="421.50" y1="288.70" x2="421.50" y2="291.70" stroke="#5e5e5e" stroke-width="0.9"/>
<line x1="420.20" y1="288.70" x2="422.80" y2="288.70" stroke="#5e5e5e" stroke-width="0.8"/>
<line x1="420.20" y1="291.70" x2="422.80" y2="291.70" stroke="#5e5e5e" stroke-width="0.8"/>
<line x1="426.50" y1="290.10" x2="426.50" y2="293.10" stroke="#5e5e5e" stroke-width="0.9"/>
<line x1="425.20" y1="290.10" x2="427.80" y2="290.10" stroke="#5e5e5e" stroke-width="0.8"/>
<line x1="425.20" y1="293.10" x2="427.80" y2="293.10" stroke="#5e5e5e" stroke-width="0.8"/>
<line x1="431.50" y1="290.50" x2="431.50" y2="294.50" stroke="#5e5e5e" stroke-width="0.9"/>
<line x1="430.20" y1="290.50" x2="432.80" y2="290.50" stroke="#5e5e5e" stroke-width="0.8"/>
<line x1="430.20" y1="294.50" x2="432.80" y2="294.50" stroke="#5e5e5e" stroke-width="0.8"/>
<line x1="437.50" y1="290.10" x2="437.50" y2="294.10" stroke="#5e5e5e" stroke-width="0.9"/>
<line x1="436.20" y1="290.10" x2="438.80" y2="290.10" stroke="#5e5e5e" stroke-width="0.8"/>
<line x1="436.20" y1="294.10" x2="438.80" y2="294.10" stroke="#5e5e5e" stroke-width="0.8"/>
<line x1="442.50" y1="288.90" x2="442.50" y2="293.90" stroke="#5e5e5e" stroke-width="0.9"/>
<line x1="441.20" y1="288.90" x2="443.80" y2="288.90" stroke="#5e5e5e" stroke-width="0.8"/>
<line x1="441.20" y1="293.90" x2="443.80" y2="293.90" stroke="#5e5e5e" stroke-width="0.8"/>
<line x1="447.50" y1="287.20" x2="447.50" y2="293.20" stroke="#5e5e5e" stroke-width="0.9"/>
<line x1="446.20" y1="287.20" x2="448.80" y2="287.20" stroke="#5e5e5e" stroke-width="0.8"/>
<line x1="446.20" y1="293.20" x2="448.80" y2="293.20" stroke="#5e5e5e" stroke-width="0.8"/>
<line x1="452.50" y1="285.30" x2="452.50" y2="292.30" stroke="#5e5e5e" stroke-width="0.9"/>
<line x1="451.20" y1="285.30" x2="453.80" y2="285.30" stroke="#5e5e5e" stroke-width="0.8"/>
<line x1="451.20" y1="292.30" x2="453.80" y2="292.30" stroke="#5e5e5e" stroke-width="0.8"/>
<line x1="458.50" y1="282.30" x2="458.50" y2="290.30" stroke="#5e5e5e" stroke-width="0.9"/>
<line x1="457.20" y1="282.30" x2="459.80" y2="282.30" stroke="#5e5e5e" stroke-width="0.8"/>
<line x1="457.20" y1="290.30" x2="459.80" y2="290.30" stroke="#5e5e5e" stroke-width="0.8"/>
<line x1="462.50" y1="279.30" x2="462.50" y2="288.30" stroke="#5e5e5e" stroke-width="0.9"/>
<line x1="461.20" y1="279.30" x2="463.80" y2="279.30" stroke="#5e5e5e" stroke-width="0.8"/>
<line x1="461.20" y1="288.30" x2="463.80" y2="288.30" stroke="#5e5e5e" stroke-width="0.8"/>
<line x1="465.50" y1="276.70" x2="465.50" y2="286.70" stroke="#5e5e5e" stroke-width="0.9"/>
<line x1="464.20" y1="276.70" x2="466.80" y2="276.70" stroke="#5e5e5e" stroke-width="0.8"/>
<line x1="464.20" y1="286.70" x2="466.80" y2="286.70" stroke="#5e5e5e" stroke-width="0.8"/>
<line x1="470.50" y1="272.50" x2="470.50" y2="284.50" stroke="#5e5e5e" stroke-width="0.9"/>
<line x1="469.20" y1="272.50" x2="471.80" y2="272.50" stroke="#5e5e5e" stroke-width="0.8"/>
<line x1="469.20" y1="284.50" x2="471.80" y2="284.50" stroke="#5e5e5e" stroke-width="0.8"/>
<line x1="480.50" y1="265.90" x2="480.50" y2="279.90" stroke="#5e5e5e" stroke-width="0.9"/>
<line x1="479.20" y1="265.90" x2="481.80" y2="265.90" stroke="#5e5e5e" stroke-width="0.8"/>
<line x1="479.20" y1="279.90" x2="481.80" y2="279.90" stroke="#5e5e5e" stroke-width="0.8"/>
<line x1="490.50" y1="254.10" x2="490.50" y2="270.10" stroke="#5e5e5e" stroke-width="0.9"/>
<line x1="489.20" y1="254.10" x2="491.80" y2="254.10" stroke="#5e5e5e" stroke-width="0.8"/>
<line x1="489.20" y1="270.10" x2="491.80" y2="270.10" stroke="#5e5e5e" stroke-width="0.8"/>
<line x1="503.50" y1="237.50" x2="503.50" y2="263.70" stroke="#5e5e5e" stroke-width="0.9"/>
<line x1="502.20" y1="237.50" x2="504.80" y2="237.50" stroke="#5e5e5e" stroke-width="0.8"/>
<line x1="502.20" y1="263.70" x2="504.80" y2="263.70" stroke="#5e5e5e" stroke-width="0.8"/>
<circle cx="411.20" cy="288.00" r="1.00" fill="#5e5e5e"/>
<circle cx="416.90" cy="288.30" r="1.00" fill="#5e5e5e"/>
<circle cx="421.40" cy="290.20" r="1.00" fill="#5e5e5e"/>
<circle cx="426.40" cy="291.60" r="1.00" fill="#5e5e5e"/>
<circle cx="431.70" cy="292.50" r="1.00" fill="#5e5e5e"/>
<circle cx="437.60" cy="292.10" r="1.00" fill="#5e5e5e"/>
<circle cx="442.10" cy="291.40" r="1.00" fill="#5e5e5e"/>
<circle cx="447.60" cy="290.20" r="1.00" fill="#5e5e5e"/>
<circle cx="452.90" cy="288.80" r="1.00" fill="#5e5e5e"/>
<circle cx="458.40" cy="286.30" r="1.00" fill="#5e5e5e"/>
<circle cx="462.80" cy="283.80" r="1.00" fill="#5e5e5e"/>
<circle cx="465.60" cy="281.70" r="1.00" fill="#5e5e5e"/>
<circle cx="470.50" cy="278.50" r="1.00" fill="#5e5e5e"/>
<circle cx="480.30" cy="272.90" r="1.00" fill="#5e5e5e"/>
<circle cx="490.80" cy="262.10" r="1.00" fill="#5e5e5e"/>
<circle cx="503.20" cy="250.60" r="1.00" fill="#5e5e5e"/>
<path d="M411.40,288.10 L421.20,292.40 L427.80,294.70 L432.70,295.30 L437.60,295.20 L442.50,294.70 L447.40,294.00 L452.30,293.00 L457.20,292.30 L462.10,291.40 L467.00,290.80 L471.90,289.80 L480.10,286.50 L489.90,282.60 L503.90,279.30" fill="none" stroke="#4c74c4" stroke-width="1.05" stroke-linejoin="round"/>
<line x1="421.50" y1="291.40" x2="421.50" y2="293.40" stroke="#4c74c4" stroke-width="0.9"/>
<line x1="420.20" y1="291.40" x2="422.80" y2="291.40" stroke="#4c74c4" stroke-width="0.8"/>
<line x1="420.20" y1="293.40" x2="422.80" y2="293.40" stroke="#4c74c4" stroke-width="0.8"/>
<line x1="427.50" y1="293.70" x2="427.50" y2="295.70" stroke="#4c74c4" stroke-width="0.9"/>
<line x1="426.20" y1="293.70" x2="428.80" y2="293.70" stroke="#4c74c4" stroke-width="0.8"/>
<line x1="426.20" y1="295.70" x2="428.80" y2="295.70" stroke="#4c74c4" stroke-width="0.8"/>
<line x1="432.50" y1="294.30" x2="432.50" y2="296.30" stroke="#4c74c4" stroke-width="0.9"/>
<line x1="431.20" y1="294.30" x2="433.80" y2="294.30" stroke="#4c74c4" stroke-width="0.8"/>
<line x1="431.20" y1="296.30" x2="433.80" y2="296.30" stroke="#4c74c4" stroke-width="0.8"/>
<line x1="437.50" y1="294.20" x2="437.50" y2="296.20" stroke="#4c74c4" stroke-width="0.9"/>
<line x1="436.20" y1="294.20" x2="438.80" y2="294.20" stroke="#4c74c4" stroke-width="0.8"/>
<line x1="436.20" y1="296.20" x2="438.80" y2="296.20" stroke="#4c74c4" stroke-width="0.8"/>
<line x1="442.50" y1="293.70" x2="442.50" y2="295.70" stroke="#4c74c4" stroke-width="0.9"/>
<line x1="441.20" y1="293.70" x2="443.80" y2="293.70" stroke="#4c74c4" stroke-width="0.8"/>
<line x1="441.20" y1="295.70" x2="443.80" y2="295.70" stroke="#4c74c4" stroke-width="0.8"/>
<line x1="447.50" y1="292.80" x2="447.50" y2="295.20" stroke="#4c74c4" stroke-width="0.9"/>
<line x1="446.20" y1="292.80" x2="448.80" y2="292.80" stroke="#4c74c4" stroke-width="0.8"/>
<line x1="446.20" y1="295.20" x2="448.80" y2="295.20" stroke="#4c74c4" stroke-width="0.8"/>
<line x1="452.50" y1="291.50" x2="452.50" y2="294.50" stroke="#4c74c4" stroke-width="0.9"/>
<line x1="451.20" y1="291.50" x2="453.80" y2="291.50" stroke="#4c74c4" stroke-width="0.8"/>
<line x1="451.20" y1="294.50" x2="453.80" y2="294.50" stroke="#4c74c4" stroke-width="0.8"/>
<line x1="457.50" y1="290.80" x2="457.50" y2="293.80" stroke="#4c74c4" stroke-width="0.9"/>
<line x1="456.20" y1="290.80" x2="458.80" y2="290.80" stroke="#4c74c4" stroke-width="0.8"/>
<line x1="456.20" y1="293.80" x2="458.80" y2="293.80" stroke="#4c74c4" stroke-width="0.8"/>
<line x1="462.50" y1="289.40" x2="462.50" y2="293.40" stroke="#4c74c4" stroke-width="0.9"/>
<line x1="461.20" y1="289.40" x2="463.80" y2="289.40" stroke="#4c74c4" stroke-width="0.8"/>
<line x1="461.20" y1="293.40" x2="463.80" y2="293.40" stroke="#4c74c4" stroke-width="0.8"/>
<line x1="467.50" y1="288.80" x2="467.50" y2="292.80" stroke="#4c74c4" stroke-width="0.9"/>
<line x1="466.20" y1="288.80" x2="468.80" y2="288.80" stroke="#4c74c4" stroke-width="0.8"/>
<line x1="466.20" y1="292.80" x2="468.80" y2="292.80" stroke="#4c74c4" stroke-width="0.8"/>
<line x1="471.50" y1="287.30" x2="471.50" y2="292.30" stroke="#4c74c4" stroke-width="0.9"/>
<line x1="470.20" y1="287.30" x2="472.80" y2="287.30" stroke="#4c74c4" stroke-width="0.8"/>
<line x1="470.20" y1="292.30" x2="472.80" y2="292.30" stroke="#4c74c4" stroke-width="0.8"/>
<line x1="480.50" y1="283.50" x2="480.50" y2="289.50" stroke="#4c74c4" stroke-width="0.9"/>
<line x1="479.20" y1="283.50" x2="481.80" y2="283.50" stroke="#4c74c4" stroke-width="0.8"/>
<line x1="479.20" y1="289.50" x2="481.80" y2="289.50" stroke="#4c74c4" stroke-width="0.8"/>
<line x1="489.50" y1="278.60" x2="489.50" y2="286.60" stroke="#4c74c4" stroke-width="0.9"/>
<line x1="488.20" y1="278.60" x2="490.80" y2="278.60" stroke="#4c74c4" stroke-width="0.8"/>
<line x1="488.20" y1="286.60" x2="490.80" y2="286.60" stroke="#4c74c4" stroke-width="0.8"/>
<line x1="503.50" y1="271.80" x2="503.50" y2="288.10" stroke="#4c74c4" stroke-width="0.9"/>
<line x1="502.20" y1="271.80" x2="504.80" y2="271.80" stroke="#4c74c4" stroke-width="0.8"/>
<line x1="502.20" y1="288.10" x2="504.80" y2="288.10" stroke="#4c74c4" stroke-width="0.8"/>
<polygon points="411.40,286.62 409.91,289.29 412.88,289.29" fill="#4c74c4"/>
<polygon points="421.20,290.91 419.71,293.59 422.69,293.59" fill="#4c74c4"/>
<polygon points="427.80,293.21 426.31,295.89 429.29,295.89" fill="#4c74c4"/>
<polygon points="432.70,293.81 431.21,296.49 434.19,296.49" fill="#4c74c4"/>
<polygon points="437.60,293.71 436.12,296.39 439.09,296.39" fill="#4c74c4"/>
<polygon points="442.50,293.21 441.01,295.89 443.99,295.89" fill="#4c74c4"/>
<polygon points="447.40,292.51 445.91,295.19 448.88,295.19" fill="#4c74c4"/>
<polygon points="452.30,291.51 450.81,294.19 453.79,294.19" fill="#4c74c4"/>
<polygon points="457.20,290.81 455.71,293.49 458.69,293.49" fill="#4c74c4"/>
<polygon points="462.10,289.91 460.62,292.59 463.59,292.59" fill="#4c74c4"/>
<polygon points="467.00,289.31 465.51,291.99 468.49,291.99" fill="#4c74c4"/>
<polygon points="471.90,288.31 470.41,290.99 473.38,290.99" fill="#4c74c4"/>
<polygon points="480.10,285.01 478.62,287.69 481.59,287.69" fill="#4c74c4"/>
<polygon points="489.90,281.12 488.41,283.79 491.38,283.79" fill="#4c74c4"/>
<polygon points="503.90,277.81 502.41,280.49 505.38,280.49" fill="#4c74c4"/>
<path d="M411.40,288.10 L421.20,294.70 L427.80,297.80 L432.70,298.20 L437.60,298.20 L442.50,298.20 L447.40,298.20 L452.30,298.20 L457.20,298.20 L462.10,298.20 L467.00,298.20 L471.90,298.20 L480.10,298.20 L489.90,298.20 L503.90,298.20" fill="none" stroke="#7e2128" stroke-width="1.05" stroke-linejoin="round"/>
<circle cx="411.40" cy="288.10" r="1.35" fill="#7e2128"/>
<circle cx="421.20" cy="294.70" r="1.35" fill="#7e2128"/>
<circle cx="427.80" cy="297.80" r="1.35" fill="#7e2128"/>
<circle cx="432.70" cy="298.20" r="1.35" fill="#7e2128"/>
<circle cx="437.60" cy="298.20" r="1.35" fill="#7e2128"/>
<circle cx="442.50" cy="298.20" r="1.35" fill="#7e2128"/>
<circle cx="447.40" cy="298.20" r="1.35" fill="#7e2128"/>
<circle cx="452.30" cy="298.20" r="1.35" fill="#7e2128"/>
<circle cx="457.20" cy="298.20" r="1.35" fill="#7e2128"/>
<circle cx="462.10" cy="298.20" r="1.35" fill="#7e2128"/>
<circle cx="467.00" cy="298.20" r="1.35" fill="#7e2128"/>
<circle cx="471.90" cy="298.20" r="1.35" fill="#7e2128"/>
<circle cx="480.10" cy="298.20" r="1.35" fill="#7e2128"/>
<circle cx="489.90" cy="298.20" r="1.35" fill="#7e2128"/>
<circle cx="503.90" cy="298.20" r="1.35" fill="#7e2128"/>
<path d="M411.20,288.00 L416.90,287.50 L421.10,284.70 L426.40,280.90 L431.70,277.70 L437.60,272.50 L442.10,268.20 L447.60,261.80 L452.90,256.50 L458.40,249.90 L462.80,242.30 L468.90,234.70 L473.70,227.00 L479.80,218.30" fill="none" stroke="#111" stroke-width="1.05" stroke-linejoin="round"/>
<line x1="416.50" y1="286.70" x2="416.50" y2="288.30" stroke="#111" stroke-width="0.9"/>
<line x1="415.20" y1="286.70" x2="417.80" y2="286.70" stroke="#111" stroke-width="0.8"/>
<line x1="415.20" y1="288.30" x2="417.80" y2="288.30" stroke="#111" stroke-width="0.8"/>
<line x1="421.50" y1="283.70" x2="421.50" y2="285.70" stroke="#111" stroke-width="0.9"/>
<line x1="420.20" y1="283.70" x2="422.80" y2="283.70" stroke="#111" stroke-width="0.8"/>
<line x1="420.20" y1="285.70" x2="422.80" y2="285.70" stroke="#111" stroke-width="0.8"/>
<line x1="426.50" y1="279.90" x2="426.50" y2="281.90" stroke="#111" stroke-width="0.9"/>
<line x1="425.20" y1="279.90" x2="427.80" y2="279.90" stroke="#111" stroke-width="0.8"/>
<line x1="425.20" y1="281.90" x2="427.80" y2="281.90" stroke="#111" stroke-width="0.8"/>
<line x1="431.50" y1="276.20" x2="431.50" y2="279.20" stroke="#111" stroke-width="0.9"/>
<line x1="430.20" y1="276.20" x2="432.80" y2="276.20" stroke="#111" stroke-width="0.8"/>
<line x1="430.20" y1="279.20" x2="432.80" y2="279.20" stroke="#111" stroke-width="0.8"/>
<line x1="437.50" y1="271.00" x2="437.50" y2="274.00" stroke="#111" stroke-width="0.9"/>
<line x1="436.20" y1="271.00" x2="438.80" y2="271.00" stroke="#111" stroke-width="0.8"/>
<line x1="436.20" y1="274.00" x2="438.80" y2="274.00" stroke="#111" stroke-width="0.8"/>
<line x1="442.50" y1="266.20" x2="442.50" y2="270.20" stroke="#111" stroke-width="0.9"/>
<line x1="441.20" y1="266.20" x2="443.80" y2="266.20" stroke="#111" stroke-width="0.8"/>
<line x1="441.20" y1="270.20" x2="443.80" y2="270.20" stroke="#111" stroke-width="0.8"/>
<line x1="447.50" y1="259.30" x2="447.50" y2="264.30" stroke="#111" stroke-width="0.9"/>
<line x1="446.20" y1="259.30" x2="448.80" y2="259.30" stroke="#111" stroke-width="0.8"/>
<line x1="446.20" y1="264.30" x2="448.80" y2="264.30" stroke="#111" stroke-width="0.8"/>
<line x1="452.50" y1="253.50" x2="452.50" y2="259.50" stroke="#111" stroke-width="0.9"/>
<line x1="451.20" y1="253.50" x2="453.80" y2="253.50" stroke="#111" stroke-width="0.8"/>
<line x1="451.20" y1="259.50" x2="453.80" y2="259.50" stroke="#111" stroke-width="0.8"/>
<line x1="458.50" y1="246.40" x2="458.50" y2="253.40" stroke="#111" stroke-width="0.9"/>
<line x1="457.20" y1="246.40" x2="459.80" y2="246.40" stroke="#111" stroke-width="0.8"/>
<line x1="457.20" y1="253.40" x2="459.80" y2="253.40" stroke="#111" stroke-width="0.8"/>
<line x1="462.50" y1="238.30" x2="462.50" y2="246.30" stroke="#111" stroke-width="0.9"/>
<line x1="461.20" y1="238.30" x2="463.80" y2="238.30" stroke="#111" stroke-width="0.8"/>
<line x1="461.20" y1="246.30" x2="463.80" y2="246.30" stroke="#111" stroke-width="0.8"/>
<line x1="468.50" y1="229.70" x2="468.50" y2="239.70" stroke="#111" stroke-width="0.9"/>
<line x1="467.20" y1="229.70" x2="469.80" y2="229.70" stroke="#111" stroke-width="0.8"/>
<line x1="467.20" y1="239.70" x2="469.80" y2="239.70" stroke="#111" stroke-width="0.8"/>
<line x1="473.50" y1="221.00" x2="473.50" y2="233.00" stroke="#111" stroke-width="0.9"/>
<line x1="472.20" y1="221.00" x2="474.80" y2="221.00" stroke="#111" stroke-width="0.8"/>
<line x1="472.20" y1="233.00" x2="474.80" y2="233.00" stroke="#111" stroke-width="0.8"/>
<line x1="479.50" y1="209.70" x2="479.50" y2="227.00" stroke="#111" stroke-width="0.9"/>
<line x1="478.20" y1="209.70" x2="480.80" y2="209.70" stroke="#111" stroke-width="0.8"/>
<line x1="478.20" y1="227.00" x2="480.80" y2="227.00" stroke="#111" stroke-width="0.8"/>
<circle cx="411.20" cy="288.00" r="1.35" fill="#111"/>
<circle cx="416.90" cy="287.50" r="1.35" fill="#111"/>
<circle cx="421.10" cy="284.70" r="1.35" fill="#111"/>
<circle cx="426.40" cy="280.90" r="1.35" fill="#111"/>
<circle cx="431.70" cy="277.70" r="1.35" fill="#111"/>
<circle cx="437.60" cy="272.50" r="1.35" fill="#111"/>
<circle cx="442.10" cy="268.20" r="1.35" fill="#111"/>
<circle cx="447.60" cy="261.80" r="1.35" fill="#111"/>
<circle cx="452.90" cy="256.50" r="1.35" fill="#111"/>
<circle cx="458.40" cy="249.90" r="1.35" fill="#111"/>
<circle cx="462.80" cy="242.30" r="1.35" fill="#111"/>
<circle cx="468.90" cy="234.70" r="1.35" fill="#111"/>
<circle cx="473.70" cy="227.00" r="1.35" fill="#111"/>
<circle cx="479.80" cy="218.30" r="1.35" fill="#111"/>
<line x1="405.60" y1="198.70" x2="411.80" y2="198.70" stroke="#111" stroke-width="1.25"/>
<circle cx="408.10" cy="198.70" r="1.25" fill="#111"/>
<text x="413.50" y="200.99" font-size="6.37" fill="#1a1a1a" stroke="#1a1a1a" stroke-width="0.16">Untreated</text>
<line x1="405.60" y1="206.00" x2="411.80" y2="206.00" stroke="#5e5e5e" stroke-width="1.25"/>
<circle cx="408.10" cy="206.00" r="1.25" fill="#5e5e5e"/>
<text x="413.50" y="208.29" font-size="6.37" fill="#1a1a1a" stroke="#1a1a1a" stroke-width="0.16">Control IgG-PBD 0.3 mg/kg</text>
<line x1="405.60" y1="213.90" x2="411.80" y2="213.90" stroke="#4c74c4" stroke-width="1.25"/>
<polygon points="408.10,212.53 406.73,215.00 409.48,215.00" fill="#4c74c4"/>
<text x="413.50" y="216.19" font-size="6.37" fill="#1a1a1a" stroke="#1a1a1a" stroke-width="0.16">5T4-PBD 0.1 mg/kg</text>
<line x1="405.60" y1="221.10" x2="411.80" y2="221.10" stroke="#7e2128" stroke-width="1.25"/>
<circle cx="408.10" cy="221.10" r="1.25" fill="#7e2128"/>
<text x="413.50" y="223.39" font-size="6.37" fill="#1a1a1a" stroke="#1a1a1a" stroke-width="0.16">5T4-PBD 0.3 mg/kg</text>
</svg>
</body></html>
